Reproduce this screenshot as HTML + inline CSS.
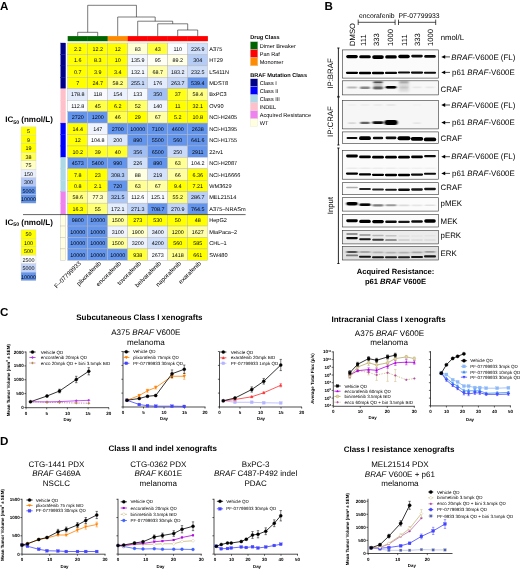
<!DOCTYPE html>
<html><head><meta charset="utf-8"><title>Figure</title>
<style>html,body{margin:0;padding:0;background:#fff}svg{display:block}text{font-family:"Liberation Sans",sans-serif;text-rendering:geometricPrecision}</style>
</head><body>
<svg width="520" height="569" viewBox="0 0 520 569">
<defs>
<filter id="b1" x="-20%" y="-100%" width="140%" height="300%"><feGaussianBlur stdDeviation="0.7 0.55"/></filter>
<filter id="b2" x="-20%" y="-100%" width="140%" height="300%"><feGaussianBlur stdDeviation="0.9 0.7"/></filter>
<filter id="b3" x="-30%" y="-50%" width="160%" height="200%"><feGaussianBlur stdDeviation="1.4 1.6"/></filter>
</defs>
<rect width="520" height="569" fill="#fff"/>
<g>
<text x="0.10" y="9.80" font-size="11.6" text-anchor="start" font-weight="bold" font-style="normal" fill="#000">A</text>
<text x="324.40" y="9.60" font-size="11.6" text-anchor="start" font-weight="bold" font-style="normal" fill="#000">B</text>
<text x="0.10" y="316.30" font-size="11.6" text-anchor="start" font-weight="bold" font-style="normal" fill="#000">C</text>
<text x="0.10" y="445.00" font-size="11.6" text-anchor="start" font-weight="bold" font-style="normal" fill="#000">D</text>
<g font-size="5.4" text-anchor="middle">
<rect x="67.70" y="43.00" width="20.0" height="11.44" fill="#ffff00" stroke="#b4b4b4" stroke-width="0.4"/>
<text x="77.70" y="50.67">2.2</text>
<rect x="87.70" y="43.00" width="20.0" height="11.44" fill="#ffff00" stroke="#b4b4b4" stroke-width="0.4"/>
<text x="97.70" y="50.67">12.2</text>
<rect x="107.70" y="43.00" width="20.0" height="11.44" fill="#ffff00" stroke="#b4b4b4" stroke-width="0.4"/>
<text x="117.70" y="50.67">12</text>
<rect x="127.70" y="43.00" width="20.0" height="11.44" fill="#ffffd4" stroke="#b4b4b4" stroke-width="0.4"/>
<text x="137.70" y="50.67">83</text>
<rect x="147.70" y="43.00" width="20.0" height="11.44" fill="#ffff3d" stroke="#b4b4b4" stroke-width="0.4"/>
<text x="157.70" y="50.67">43</text>
<rect x="167.70" y="43.00" width="20.0" height="11.44" fill="#fbfcff" stroke="#b4b4b4" stroke-width="0.4"/>
<text x="177.70" y="50.67">110</text>
<rect x="187.70" y="43.00" width="20.0" height="11.44" fill="#d0dffa" stroke="#b4b4b4" stroke-width="0.4"/>
<text x="197.70" y="50.67">226.9</text>
<rect x="67.70" y="54.44" width="20.0" height="11.44" fill="#ffff00" stroke="#b4b4b4" stroke-width="0.4"/>
<text x="77.70" y="62.11">1.6</text>
<rect x="87.70" y="54.44" width="20.0" height="11.44" fill="#ffff00" stroke="#b4b4b4" stroke-width="0.4"/>
<text x="97.70" y="62.11">8.3</text>
<rect x="107.70" y="54.44" width="20.0" height="11.44" fill="#ffff00" stroke="#b4b4b4" stroke-width="0.4"/>
<text x="117.70" y="62.11">10</text>
<rect x="127.70" y="54.44" width="20.0" height="11.44" fill="#f2f6fd" stroke="#b4b4b4" stroke-width="0.4"/>
<text x="137.70" y="62.11">135.9</text>
<rect x="147.70" y="54.44" width="20.0" height="11.44" fill="#fffff3" stroke="#b4b4b4" stroke-width="0.4"/>
<text x="157.70" y="62.11">95</text>
<rect x="167.70" y="54.44" width="20.0" height="11.44" fill="#ffffe5" stroke="#b4b4b4" stroke-width="0.4"/>
<text x="177.70" y="62.11">89.2</text>
<rect x="187.70" y="54.44" width="20.0" height="11.44" fill="#b4ccf6" stroke="#b4b4b4" stroke-width="0.4"/>
<text x="197.70" y="62.11">304</text>
<rect x="67.70" y="65.88" width="20.0" height="11.44" fill="#ffff00" stroke="#b4b4b4" stroke-width="0.4"/>
<text x="77.70" y="73.55">0.7</text>
<rect x="87.70" y="65.88" width="20.0" height="11.44" fill="#ffff00" stroke="#b4b4b4" stroke-width="0.4"/>
<text x="97.70" y="73.55">3.9</text>
<rect x="107.70" y="65.88" width="20.0" height="11.44" fill="#ffff00" stroke="#b4b4b4" stroke-width="0.4"/>
<text x="117.70" y="73.55">3.4</text>
<rect x="127.70" y="65.88" width="20.0" height="11.44" fill="#f3f7fe" stroke="#b4b4b4" stroke-width="0.4"/>
<text x="137.70" y="73.55">132.1</text>
<rect x="147.70" y="65.88" width="20.0" height="11.44" fill="#ffffa9" stroke="#b4b4b4" stroke-width="0.4"/>
<text x="157.70" y="73.55">68.7</text>
<rect x="167.70" y="65.88" width="20.0" height="11.44" fill="#e0eafb" stroke="#b4b4b4" stroke-width="0.4"/>
<text x="177.70" y="73.55">183.2</text>
<rect x="187.70" y="65.88" width="20.0" height="11.44" fill="#cedef9" stroke="#b4b4b4" stroke-width="0.4"/>
<text x="197.70" y="73.55">232.5</text>
<rect x="67.70" y="77.32" width="20.0" height="11.44" fill="#ffff00" stroke="#b4b4b4" stroke-width="0.4"/>
<text x="77.70" y="84.99">7</text>
<rect x="87.70" y="77.32" width="20.0" height="11.44" fill="#ffff00" stroke="#b4b4b4" stroke-width="0.4"/>
<text x="97.70" y="84.99">24.7</text>
<rect x="107.70" y="77.32" width="20.0" height="11.44" fill="#ffff83" stroke="#b4b4b4" stroke-width="0.4"/>
<text x="117.70" y="84.99">58.2</text>
<rect x="127.70" y="77.32" width="20.0" height="11.44" fill="#c6d8f8" stroke="#b4b4b4" stroke-width="0.4"/>
<text x="137.70" y="84.99">255.1</text>
<rect x="147.70" y="77.32" width="20.0" height="11.44" fill="#e3ecfc" stroke="#b4b4b4" stroke-width="0.4"/>
<text x="157.70" y="84.99">176</text>
<rect x="167.70" y="77.32" width="20.0" height="11.44" fill="#c3d6f8" stroke="#b4b4b4" stroke-width="0.4"/>
<text x="177.70" y="84.99">263.7</text>
<rect x="187.70" y="77.32" width="20.0" height="11.44" fill="#6495ed" stroke="#b4b4b4" stroke-width="0.4"/>
<text x="197.70" y="84.99">539.4</text>
<rect x="67.70" y="88.76" width="20.0" height="11.44" fill="#e2ebfc" stroke="#b4b4b4" stroke-width="0.4"/>
<text x="77.70" y="96.43">178.8</text>
<rect x="87.70" y="88.76" width="20.0" height="11.44" fill="#f8fafe" stroke="#b4b4b4" stroke-width="0.4"/>
<text x="97.70" y="96.43">118</text>
<rect x="107.70" y="88.76" width="20.0" height="11.44" fill="#ebf1fd" stroke="#b4b4b4" stroke-width="0.4"/>
<text x="117.70" y="96.43">154</text>
<rect x="127.70" y="88.76" width="20.0" height="11.44" fill="#f3f7fe" stroke="#b4b4b4" stroke-width="0.4"/>
<text x="137.70" y="96.43">133</text>
<rect x="147.70" y="88.76" width="20.0" height="11.44" fill="#a3c0f4" stroke="#b4b4b4" stroke-width="0.4"/>
<text x="157.70" y="96.43">350</text>
<rect x="167.70" y="88.76" width="20.0" height="11.44" fill="#ffff1a" stroke="#b4b4b4" stroke-width="0.4"/>
<text x="177.70" y="96.43">37</text>
<rect x="187.70" y="88.76" width="20.0" height="11.44" fill="#ffff83" stroke="#b4b4b4" stroke-width="0.4"/>
<text x="197.70" y="96.43">58.4</text>
<rect x="67.70" y="100.20" width="20.0" height="11.44" fill="#fafcfe" stroke="#b4b4b4" stroke-width="0.4"/>
<text x="77.70" y="107.87">112.8</text>
<rect x="87.70" y="100.20" width="20.0" height="11.44" fill="#ffff47" stroke="#b4b4b4" stroke-width="0.4"/>
<text x="97.70" y="107.87">45</text>
<rect x="107.70" y="100.20" width="20.0" height="11.44" fill="#ffff00" stroke="#b4b4b4" stroke-width="0.4"/>
<text x="117.70" y="107.87">6.2</text>
<rect x="127.70" y="100.20" width="20.0" height="11.44" fill="#ffff69" stroke="#b4b4b4" stroke-width="0.4"/>
<text x="137.70" y="107.87">52</text>
<rect x="147.70" y="100.20" width="20.0" height="11.44" fill="#f0f5fd" stroke="#b4b4b4" stroke-width="0.4"/>
<text x="157.70" y="107.87">140</text>
<rect x="167.70" y="100.20" width="20.0" height="11.44" fill="#ffff00" stroke="#b4b4b4" stroke-width="0.4"/>
<text x="177.70" y="107.87">11</text>
<rect x="187.70" y="100.20" width="20.0" height="11.44" fill="#ffff00" stroke="#b4b4b4" stroke-width="0.4"/>
<text x="197.70" y="107.87">32.1</text>
<rect x="67.70" y="111.64" width="20.0" height="11.44" fill="#6495ed" stroke="#b4b4b4" stroke-width="0.4"/>
<text x="77.70" y="119.31">2720</text>
<rect x="87.70" y="111.64" width="20.0" height="11.44" fill="#6495ed" stroke="#b4b4b4" stroke-width="0.4"/>
<text x="97.70" y="119.31">1200</text>
<rect x="107.70" y="111.64" width="20.0" height="11.44" fill="#ffff4c" stroke="#b4b4b4" stroke-width="0.4"/>
<text x="117.70" y="119.31">46</text>
<rect x="127.70" y="111.64" width="20.0" height="11.44" fill="#ffff00" stroke="#b4b4b4" stroke-width="0.4"/>
<text x="137.70" y="119.31">29</text>
<rect x="147.70" y="111.64" width="20.0" height="11.44" fill="#ffffa3" stroke="#b4b4b4" stroke-width="0.4"/>
<text x="157.70" y="119.31">67</text>
<rect x="167.70" y="111.64" width="20.0" height="11.44" fill="#ffff00" stroke="#b4b4b4" stroke-width="0.4"/>
<text x="177.70" y="119.31">5.2</text>
<rect x="187.70" y="111.64" width="20.0" height="11.44" fill="#ffff00" stroke="#b4b4b4" stroke-width="0.4"/>
<text x="197.70" y="119.31">10.8</text>
<rect x="67.70" y="123.08" width="20.0" height="11.44" fill="#ffff00" stroke="#b4b4b4" stroke-width="0.4"/>
<text x="77.70" y="130.75">14.4</text>
<rect x="87.70" y="123.08" width="20.0" height="11.44" fill="#eef3fd" stroke="#b4b4b4" stroke-width="0.4"/>
<text x="97.70" y="130.75">147</text>
<rect x="107.70" y="123.08" width="20.0" height="11.44" fill="#6495ed" stroke="#b4b4b4" stroke-width="0.4"/>
<text x="117.70" y="130.75">2700</text>
<rect x="127.70" y="123.08" width="20.0" height="11.44" fill="#6495ed" stroke="#b4b4b4" stroke-width="0.4"/>
<text x="137.70" y="130.75">10000</text>
<rect x="147.70" y="123.08" width="20.0" height="11.44" fill="#6495ed" stroke="#b4b4b4" stroke-width="0.4"/>
<text x="157.70" y="130.75">7100</text>
<rect x="167.70" y="123.08" width="20.0" height="11.44" fill="#6495ed" stroke="#b4b4b4" stroke-width="0.4"/>
<text x="177.70" y="130.75">4600</text>
<rect x="187.70" y="123.08" width="20.0" height="11.44" fill="#6495ed" stroke="#b4b4b4" stroke-width="0.4"/>
<text x="197.70" y="130.75">2638</text>
<rect x="67.70" y="134.52" width="20.0" height="11.44" fill="#ffff00" stroke="#b4b4b4" stroke-width="0.4"/>
<text x="77.70" y="142.19">12</text>
<rect x="87.70" y="134.52" width="20.0" height="11.44" fill="#fdfeff" stroke="#b4b4b4" stroke-width="0.4"/>
<text x="97.70" y="142.19">104.8</text>
<rect x="107.70" y="134.52" width="20.0" height="11.44" fill="#dae6fb" stroke="#b4b4b4" stroke-width="0.4"/>
<text x="117.70" y="142.19">200</text>
<rect x="127.70" y="134.52" width="20.0" height="11.44" fill="#6495ed" stroke="#b4b4b4" stroke-width="0.4"/>
<text x="137.70" y="142.19">890</text>
<rect x="147.70" y="134.52" width="20.0" height="11.44" fill="#6495ed" stroke="#b4b4b4" stroke-width="0.4"/>
<text x="157.70" y="142.19">5500</text>
<rect x="167.70" y="134.52" width="20.0" height="11.44" fill="#6495ed" stroke="#b4b4b4" stroke-width="0.4"/>
<text x="177.70" y="142.19">560</text>
<rect x="187.70" y="134.52" width="20.0" height="11.44" fill="#6495ed" stroke="#b4b4b4" stroke-width="0.4"/>
<text x="197.70" y="142.19">641.6</text>
<rect x="67.70" y="145.96" width="20.0" height="11.44" fill="#ffff00" stroke="#b4b4b4" stroke-width="0.4"/>
<text x="77.70" y="153.63">10.2</text>
<rect x="87.70" y="145.96" width="20.0" height="11.44" fill="#ffff26" stroke="#b4b4b4" stroke-width="0.4"/>
<text x="97.70" y="153.63">39</text>
<rect x="107.70" y="145.96" width="20.0" height="11.44" fill="#ffff2c" stroke="#b4b4b4" stroke-width="0.4"/>
<text x="117.70" y="153.63">40</text>
<rect x="127.70" y="145.96" width="20.0" height="11.44" fill="#a1bef4" stroke="#b4b4b4" stroke-width="0.4"/>
<text x="137.70" y="153.63">356</text>
<rect x="147.70" y="145.96" width="20.0" height="11.44" fill="#6495ed" stroke="#b4b4b4" stroke-width="0.4"/>
<text x="157.70" y="153.63">6500</text>
<rect x="167.70" y="145.96" width="20.0" height="11.44" fill="#c8d9f9" stroke="#b4b4b4" stroke-width="0.4"/>
<text x="177.70" y="153.63">250</text>
<rect x="187.70" y="145.96" width="20.0" height="11.44" fill="#6495ed" stroke="#b4b4b4" stroke-width="0.4"/>
<text x="197.70" y="153.63">2911</text>
<rect x="67.70" y="157.40" width="20.0" height="11.44" fill="#6495ed" stroke="#b4b4b4" stroke-width="0.4"/>
<text x="77.70" y="165.07">4573</text>
<rect x="87.70" y="157.40" width="20.0" height="11.44" fill="#6495ed" stroke="#b4b4b4" stroke-width="0.4"/>
<text x="97.70" y="165.07">5400</text>
<rect x="107.70" y="157.40" width="20.0" height="11.44" fill="#6495ed" stroke="#b4b4b4" stroke-width="0.4"/>
<text x="117.70" y="165.07">990</text>
<rect x="127.70" y="157.40" width="20.0" height="11.44" fill="#d0dffa" stroke="#b4b4b4" stroke-width="0.4"/>
<text x="137.70" y="165.07">226</text>
<rect x="147.70" y="157.40" width="20.0" height="11.44" fill="#6495ed" stroke="#b4b4b4" stroke-width="0.4"/>
<text x="157.70" y="165.07">890</text>
<rect x="167.70" y="157.40" width="20.0" height="11.44" fill="#ffff95" stroke="#b4b4b4" stroke-width="0.4"/>
<text x="177.70" y="165.07">63</text>
<rect x="187.70" y="157.40" width="20.0" height="11.44" fill="#fdfeff" stroke="#b4b4b4" stroke-width="0.4"/>
<text x="197.70" y="165.07">104.2</text>
<rect x="67.70" y="168.84" width="20.0" height="11.44" fill="#ffff00" stroke="#b4b4b4" stroke-width="0.4"/>
<text x="77.70" y="176.51">7.8</text>
<rect x="87.70" y="168.84" width="20.0" height="11.44" fill="#ffff00" stroke="#b4b4b4" stroke-width="0.4"/>
<text x="97.70" y="176.51">23</text>
<rect x="107.70" y="168.84" width="20.0" height="11.44" fill="#b2caf6" stroke="#b4b4b4" stroke-width="0.4"/>
<text x="117.70" y="176.51">308.3</text>
<rect x="127.70" y="168.84" width="20.0" height="11.44" fill="#ffffe2" stroke="#b4b4b4" stroke-width="0.4"/>
<text x="137.70" y="176.51">88</text>
<rect x="147.70" y="168.84" width="20.0" height="11.44" fill="#d3e1fa" stroke="#b4b4b4" stroke-width="0.4"/>
<text x="157.70" y="176.51">219</text>
<rect x="167.70" y="168.84" width="20.0" height="11.44" fill="#ffff9f" stroke="#b4b4b4" stroke-width="0.4"/>
<text x="177.70" y="176.51">66</text>
<rect x="187.70" y="168.84" width="20.0" height="11.44" fill="#ffff00" stroke="#b4b4b4" stroke-width="0.4"/>
<text x="197.70" y="176.51">6.36</text>
<rect x="67.70" y="180.28" width="20.0" height="11.44" fill="#ffff00" stroke="#b4b4b4" stroke-width="0.4"/>
<text x="77.70" y="187.95">0.8</text>
<rect x="87.70" y="180.28" width="20.0" height="11.44" fill="#ffff00" stroke="#b4b4b4" stroke-width="0.4"/>
<text x="97.70" y="187.95">2.1</text>
<rect x="107.70" y="180.28" width="20.0" height="11.44" fill="#6495ed" stroke="#b4b4b4" stroke-width="0.4"/>
<text x="117.70" y="187.95">720</text>
<rect x="127.70" y="180.28" width="20.0" height="11.44" fill="#ffff95" stroke="#b4b4b4" stroke-width="0.4"/>
<text x="137.70" y="187.95">63</text>
<rect x="147.70" y="180.28" width="20.0" height="11.44" fill="#ffffa3" stroke="#b4b4b4" stroke-width="0.4"/>
<text x="157.70" y="187.95">67</text>
<rect x="167.70" y="180.28" width="20.0" height="11.44" fill="#ffff00" stroke="#b4b4b4" stroke-width="0.4"/>
<text x="177.70" y="187.95">9.4</text>
<rect x="187.70" y="180.28" width="20.0" height="11.44" fill="#ffff00" stroke="#b4b4b4" stroke-width="0.4"/>
<text x="197.70" y="187.95">7.21</text>
<rect x="67.70" y="191.72" width="20.0" height="11.44" fill="#ffff84" stroke="#b4b4b4" stroke-width="0.4"/>
<text x="77.70" y="199.39">58.6</text>
<rect x="87.70" y="191.72" width="20.0" height="11.44" fill="#ffffc4" stroke="#b4b4b4" stroke-width="0.4"/>
<text x="97.70" y="199.39">77.3</text>
<rect x="107.70" y="191.72" width="20.0" height="11.44" fill="#adc7f6" stroke="#b4b4b4" stroke-width="0.4"/>
<text x="117.70" y="199.39">321.5</text>
<rect x="127.70" y="191.72" width="20.0" height="11.44" fill="#fafcfe" stroke="#b4b4b4" stroke-width="0.4"/>
<text x="137.70" y="199.39">112.6</text>
<rect x="147.70" y="191.72" width="20.0" height="11.44" fill="#f6f9fe" stroke="#b4b4b4" stroke-width="0.4"/>
<text x="157.70" y="199.39">125.1</text>
<rect x="167.70" y="191.72" width="20.0" height="11.44" fill="#ffff76" stroke="#b4b4b4" stroke-width="0.4"/>
<text x="177.70" y="199.39">55.2</text>
<rect x="187.70" y="191.72" width="20.0" height="11.44" fill="#bad0f7" stroke="#b4b4b4" stroke-width="0.4"/>
<text x="197.70" y="199.39">286.7</text>
<rect x="67.70" y="203.16" width="20.0" height="11.44" fill="#ffff00" stroke="#b4b4b4" stroke-width="0.4"/>
<text x="77.70" y="210.83">16.3</text>
<rect x="87.70" y="203.16" width="20.0" height="11.44" fill="#ffff75" stroke="#b4b4b4" stroke-width="0.4"/>
<text x="97.70" y="210.83">55</text>
<rect x="107.70" y="203.16" width="20.0" height="11.44" fill="#e4edfc" stroke="#b4b4b4" stroke-width="0.4"/>
<text x="117.70" y="210.83">172.1</text>
<rect x="127.70" y="203.16" width="20.0" height="11.44" fill="#c0d4f8" stroke="#b4b4b4" stroke-width="0.4"/>
<text x="137.70" y="210.83">271.3</text>
<rect x="147.70" y="203.16" width="20.0" height="11.44" fill="#6495ed" stroke="#b4b4b4" stroke-width="0.4"/>
<text x="157.70" y="210.83">708.7</text>
<rect x="167.70" y="203.16" width="20.0" height="11.44" fill="#c0d4f8" stroke="#b4b4b4" stroke-width="0.4"/>
<text x="177.70" y="210.83">270.9</text>
<rect x="187.70" y="203.16" width="20.0" height="11.44" fill="#6495ed" stroke="#b4b4b4" stroke-width="0.4"/>
<text x="197.70" y="210.83">764.5</text>
<rect x="67.70" y="214.60" width="20.0" height="11.44" fill="#6495ed" stroke="#b4b4b4" stroke-width="0.4"/>
<text x="77.70" y="222.27">9800</text>
<rect x="87.70" y="214.60" width="20.0" height="11.44" fill="#6495ed" stroke="#b4b4b4" stroke-width="0.4"/>
<text x="97.70" y="222.27">10000</text>
<rect x="107.70" y="214.60" width="20.0" height="11.44" fill="#ffff99" stroke="#b4b4b4" stroke-width="0.4"/>
<text x="117.70" y="222.27">1500</text>
<rect x="127.70" y="214.60" width="20.0" height="11.44" fill="#ffff00" stroke="#b4b4b4" stroke-width="0.4"/>
<text x="137.70" y="222.27">273</text>
<rect x="147.70" y="214.60" width="20.0" height="11.44" fill="#ffff00" stroke="#b4b4b4" stroke-width="0.4"/>
<text x="157.70" y="222.27">530</text>
<rect x="167.70" y="214.60" width="20.0" height="11.44" fill="#ffff00" stroke="#b4b4b4" stroke-width="0.4"/>
<text x="177.70" y="222.27">50</text>
<rect x="187.70" y="214.60" width="20.0" height="11.44" fill="#ffff00" stroke="#b4b4b4" stroke-width="0.4"/>
<text x="197.70" y="222.27">48</text>
<rect x="67.70" y="226.04" width="20.0" height="11.44" fill="#6495ed" stroke="#b4b4b4" stroke-width="0.4"/>
<text x="77.70" y="233.71">10000</text>
<rect x="87.70" y="226.04" width="20.0" height="11.44" fill="#6495ed" stroke="#b4b4b4" stroke-width="0.4"/>
<text x="97.70" y="233.71">10000</text>
<rect x="107.70" y="226.04" width="20.0" height="11.44" fill="#eef3fd" stroke="#b4b4b4" stroke-width="0.4"/>
<text x="117.70" y="233.71">3100</text>
<rect x="127.70" y="226.04" width="20.0" height="11.44" fill="#ffffc8" stroke="#b4b4b4" stroke-width="0.4"/>
<text x="137.70" y="233.71">1900</text>
<rect x="147.70" y="226.04" width="20.0" height="11.44" fill="#e6eefc" stroke="#b4b4b4" stroke-width="0.4"/>
<text x="157.70" y="233.71">3400</text>
<rect x="167.70" y="226.04" width="20.0" height="11.44" fill="#ffff6c" stroke="#b4b4b4" stroke-width="0.4"/>
<text x="177.70" y="233.71">1200</text>
<rect x="187.70" y="226.04" width="20.0" height="11.44" fill="#ffffa9" stroke="#b4b4b4" stroke-width="0.4"/>
<text x="197.70" y="233.71">1627</text>
<rect x="67.70" y="237.48" width="20.0" height="11.44" fill="#6495ed" stroke="#b4b4b4" stroke-width="0.4"/>
<text x="77.70" y="245.15">10000</text>
<rect x="87.70" y="237.48" width="20.0" height="11.44" fill="#6495ed" stroke="#b4b4b4" stroke-width="0.4"/>
<text x="97.70" y="245.15">10000</text>
<rect x="107.70" y="237.48" width="20.0" height="11.44" fill="#ffff99" stroke="#b4b4b4" stroke-width="0.4"/>
<text x="117.70" y="245.15">1500</text>
<rect x="127.70" y="237.48" width="20.0" height="11.44" fill="#ebf2fd" stroke="#b4b4b4" stroke-width="0.4"/>
<text x="137.70" y="245.15">3200</text>
<rect x="147.70" y="237.48" width="20.0" height="11.44" fill="#cfdef9" stroke="#b4b4b4" stroke-width="0.4"/>
<text x="157.70" y="245.15">4200</text>
<rect x="167.70" y="237.48" width="20.0" height="11.44" fill="#ffff00" stroke="#b4b4b4" stroke-width="0.4"/>
<text x="177.70" y="245.15">560</text>
<rect x="187.70" y="237.48" width="20.0" height="11.44" fill="#ffff00" stroke="#b4b4b4" stroke-width="0.4"/>
<text x="197.70" y="245.15">585</text>
<rect x="67.70" y="248.92" width="20.0" height="11.44" fill="#6495ed" stroke="#b4b4b4" stroke-width="0.4"/>
<text x="77.70" y="256.59">10000</text>
<rect x="87.70" y="248.92" width="20.0" height="11.44" fill="#6495ed" stroke="#b4b4b4" stroke-width="0.4"/>
<text x="97.70" y="256.59">10000</text>
<rect x="107.70" y="248.92" width="20.0" height="11.44" fill="#6495ed" stroke="#b4b4b4" stroke-width="0.4"/>
<text x="117.70" y="256.59">10000</text>
<rect x="127.70" y="248.92" width="20.0" height="11.44" fill="#ffff3b" stroke="#b4b4b4" stroke-width="0.4"/>
<text x="137.70" y="256.59">938</text>
<rect x="147.70" y="248.92" width="20.0" height="11.44" fill="#fafcfe" stroke="#b4b4b4" stroke-width="0.4"/>
<text x="157.70" y="256.59">2673</text>
<rect x="167.70" y="248.92" width="20.0" height="11.44" fill="#ffff8d" stroke="#b4b4b4" stroke-width="0.4"/>
<text x="177.70" y="256.59">1418</text>
<rect x="187.70" y="248.92" width="20.0" height="11.44" fill="#ffff00" stroke="#b4b4b4" stroke-width="0.4"/>
<text x="197.70" y="256.59">661</text>
</g>
<g font-size="5.6">
<text x="209.2" y="50.72">A375</text>
<text x="209.2" y="62.16">HT29</text>
<text x="209.2" y="73.60">LS411N</text>
<text x="209.2" y="85.04">MDST8</text>
<text x="209.2" y="96.48">BxPC3</text>
<text x="209.2" y="107.92">OV90</text>
<text x="209.2" y="119.36">NCI-H2405</text>
<text x="209.2" y="130.80">NCI-H1395</text>
<text x="209.2" y="142.24">NCI-H1755</text>
<text x="209.2" y="153.68">22rv1</text>
<text x="209.2" y="165.12">NCI-H2087</text>
<text x="209.2" y="176.56">NCI-H16666</text>
<text x="209.2" y="188.00">WM3629</text>
<text x="209.2" y="199.44">MEL21514</text>
<text x="209.2" y="210.88">A375–NRASm</text>
<text x="209.2" y="222.32">HepG2</text>
<text x="209.2" y="233.76">MiaPaca–2</text>
<text x="209.2" y="245.20">CHL–1</text>
<text x="209.2" y="256.64">SW480</text>
</g>
<rect x="60.7" y="43.00" width="4.9" height="11.44" fill="#00008b" stroke="#00008b" stroke-width="0.3"/>
<rect x="60.7" y="54.44" width="4.9" height="11.44" fill="#00008b" stroke="#00008b" stroke-width="0.3"/>
<rect x="60.7" y="65.88" width="4.9" height="11.44" fill="#00008b" stroke="#00008b" stroke-width="0.3"/>
<rect x="60.7" y="77.32" width="4.9" height="11.44" fill="#00008b" stroke="#00008b" stroke-width="0.3"/>
<rect x="60.7" y="88.76" width="4.9" height="11.44" fill="#ffc0cb" stroke="#ffc0cb" stroke-width="0.3"/>
<rect x="60.7" y="100.20" width="4.9" height="11.44" fill="#ffc0cb" stroke="#ffc0cb" stroke-width="0.3"/>
<rect x="60.7" y="111.64" width="4.9" height="11.44" fill="#ffc0cb" stroke="#ffc0cb" stroke-width="0.3"/>
<rect x="60.7" y="123.08" width="4.9" height="11.44" fill="#0000ff" stroke="#0000ff" stroke-width="0.3"/>
<rect x="60.7" y="134.52" width="4.9" height="11.44" fill="#0000ff" stroke="#0000ff" stroke-width="0.3"/>
<rect x="60.7" y="145.96" width="4.9" height="11.44" fill="#0000ff" stroke="#0000ff" stroke-width="0.3"/>
<rect x="60.7" y="157.40" width="4.9" height="11.44" fill="#add8e6" stroke="#add8e6" stroke-width="0.3"/>
<rect x="60.7" y="168.84" width="4.9" height="11.44" fill="#add8e6" stroke="#add8e6" stroke-width="0.3"/>
<rect x="60.7" y="180.28" width="4.9" height="11.44" fill="#add8e6" stroke="#add8e6" stroke-width="0.3"/>
<rect x="60.7" y="191.72" width="4.9" height="11.44" fill="#ee82ee" stroke="#ee82ee" stroke-width="0.3"/>
<rect x="60.7" y="203.16" width="4.9" height="11.44" fill="#ee82ee" stroke="#ee82ee" stroke-width="0.3"/>
<rect x="60.7" y="214.60" width="4.9" height="11.44" fill="#ffffe0" stroke="#bbb" stroke-width="0.4"/>
<rect x="60.7" y="226.04" width="4.9" height="11.44" fill="#ffffe0" stroke="#bbb" stroke-width="0.4"/>
<rect x="60.7" y="237.48" width="4.9" height="11.44" fill="#ffffe0" stroke="#bbb" stroke-width="0.4"/>
<rect x="60.7" y="248.92" width="4.9" height="11.44" fill="#ffffe0" stroke="#bbb" stroke-width="0.4"/>
<rect x="67.70" y="36.1" width="20.2" height="5.1" fill="#006400"/>
<rect x="87.70" y="36.1" width="20.2" height="5.1" fill="#006400"/>
<rect x="107.70" y="36.1" width="20.2" height="5.1" fill="#ff8c00"/>
<rect x="127.70" y="36.1" width="20.2" height="5.1" fill="#ff0000"/>
<rect x="147.70" y="36.1" width="20.2" height="5.1" fill="#ff0000"/>
<rect x="167.70" y="36.1" width="20.2" height="5.1" fill="#ff0000"/>
<rect x="187.70" y="36.1" width="20.2" height="5.1" fill="#ff0000"/>
<line x1="23" y1="214.60" x2="245.6" y2="214.60" stroke="#222" stroke-width="0.7"/>
<polyline fill="none" stroke="#222" stroke-width="0.6" points="177.70,36.10 177.70,30.00 197.70,30.00 197.70,36.10"/>
<polyline fill="none" stroke="#222" stroke-width="0.6" points="157.70,36.10 157.70,23.80 187.70,23.80 187.70,30.00"/>
<polyline fill="none" stroke="#222" stroke-width="0.6" points="137.70,36.10 137.70,21.20 172.70,21.20 172.70,23.80"/>
<polyline fill="none" stroke="#222" stroke-width="0.6" points="117.70,36.10 117.70,17.00 155.20,17.00 155.20,21.20"/>
<polyline fill="none" stroke="#222" stroke-width="0.6" points="77.70,36.10 77.70,32.30 97.70,32.30 97.70,36.10"/>
<polyline fill="none" stroke="#222" stroke-width="0.6" points="87.70,32.30 87.70,5.30 136.45,5.30 136.45,17.00"/>
<text x="81.40" y="263.80" font-size="6.2" text-anchor="end" font-weight="normal" font-style="normal" fill="#000" transform="rotate(-45 81.40 263.80)">F–07799933</text>
<text x="101.40" y="263.80" font-size="6.2" text-anchor="end" font-weight="normal" font-style="normal" fill="#000" transform="rotate(-45 101.40 263.80)">plixorafenib</text>
<text x="121.40" y="263.80" font-size="6.2" text-anchor="end" font-weight="normal" font-style="normal" fill="#000" transform="rotate(-45 121.40 263.80)">encorafenib</text>
<text x="141.40" y="263.80" font-size="6.2" text-anchor="end" font-weight="normal" font-style="normal" fill="#000" transform="rotate(-45 141.40 263.80)">tovorafenib</text>
<text x="161.40" y="263.80" font-size="6.2" text-anchor="end" font-weight="normal" font-style="normal" fill="#000" transform="rotate(-45 161.40 263.80)">belvarafenib</text>
<text x="181.40" y="263.80" font-size="6.2" text-anchor="end" font-weight="normal" font-style="normal" fill="#000" transform="rotate(-45 181.40 263.80)">naporafenib</text>
<text x="201.40" y="263.80" font-size="6.2" text-anchor="end" font-weight="normal" font-style="normal" fill="#000" transform="rotate(-45 201.40 263.80)">exarafenib</text>
<text x="5.3" y="122.3" font-size="8" font-weight="bold">IC<tspan font-size="5.2" dy="1.5">50</tspan><tspan dy="-1.5"> (nmol/L)</tspan></text>
<text x="5.3" y="224.6" font-size="8" font-weight="bold">IC<tspan font-size="5.2" dy="1.5">50</tspan><tspan dy="-1.5"> (nmol/L)</tspan></text>
<rect x="21" y="126.90" width="15" height="8.47" fill="#ffff00" stroke="#ccc" stroke-width="0.3"/>
<text x="28.5" y="133.44" font-size="5.4" text-anchor="middle">5</text>
<rect x="21" y="135.37" width="15" height="8.47" fill="#ffff00" stroke="#ccc" stroke-width="0.3"/>
<text x="28.5" y="141.91" font-size="5.4" text-anchor="middle">9</text>
<rect x="21" y="143.84" width="15" height="8.47" fill="#ffff00" stroke="#ccc" stroke-width="0.3"/>
<text x="28.5" y="150.38" font-size="5.4" text-anchor="middle">19</text>
<rect x="21" y="152.31" width="15" height="8.47" fill="#ffff55" stroke="#ccc" stroke-width="0.3"/>
<text x="28.5" y="158.85" font-size="5.4" text-anchor="middle">38</text>
<rect x="21" y="160.78" width="15" height="8.47" fill="#ffffc4" stroke="#ccc" stroke-width="0.3"/>
<text x="28.5" y="167.32" font-size="5.4" text-anchor="middle">75</text>
<rect x="21" y="169.25" width="15" height="8.47" fill="#e9effc" stroke="#ccc" stroke-width="0.3"/>
<text x="28.5" y="175.79" font-size="5.4" text-anchor="middle">150</text>
<rect x="21" y="177.72" width="15" height="8.47" fill="#b4c8f6" stroke="#ccc" stroke-width="0.3"/>
<text x="28.5" y="184.26" font-size="5.4" text-anchor="middle">300</text>
<rect x="21" y="186.19" width="15" height="8.47" fill="#6495ed" stroke="#ccc" stroke-width="0.3"/>
<text x="28.5" y="192.73" font-size="5.4" text-anchor="middle">5000</text>
<rect x="21" y="194.66" width="15" height="8.47" fill="#6495ed" stroke="#ccc" stroke-width="0.3"/>
<text x="28.5" y="201.20" font-size="5.4" text-anchor="middle">10000</text>
<rect x="21" y="229.90" width="15" height="8.45" fill="#ffff00" stroke="#ccc" stroke-width="0.3"/>
<text x="28.5" y="236.43" font-size="5.4" text-anchor="middle">50</text>
<rect x="21" y="238.35" width="15" height="8.45" fill="#ffff00" stroke="#ccc" stroke-width="0.3"/>
<text x="28.5" y="244.88" font-size="5.4" text-anchor="middle">100</text>
<rect x="21" y="246.80" width="15" height="8.45" fill="#ffff00" stroke="#ccc" stroke-width="0.3"/>
<text x="28.5" y="253.33" font-size="5.4" text-anchor="middle">500</text>
<rect x="21" y="255.25" width="15" height="8.45" fill="#fafbff" stroke="#ccc" stroke-width="0.3"/>
<text x="28.5" y="261.78" font-size="5.4" text-anchor="middle">2500</text>
<rect x="21" y="263.70" width="15" height="8.45" fill="#c3d3f8" stroke="#ccc" stroke-width="0.3"/>
<text x="28.5" y="270.23" font-size="5.4" text-anchor="middle">5000</text>
<rect x="21" y="272.15" width="15" height="8.45" fill="#6495ed" stroke="#ccc" stroke-width="0.3"/>
<text x="28.5" y="278.68" font-size="5.4" text-anchor="middle">10000</text>
<text x="250.20" y="39.20" font-size="5.6" text-anchor="start" font-weight="bold" font-style="normal" fill="#000">Drug Class</text>
<rect x="250.3" y="41.70" width="7.5" height="8.03" fill="#006400" stroke="#ddd" stroke-width="0.3"/>
<text x="259.70" y="47.70" font-size="5.6" text-anchor="start" font-weight="normal" font-style="normal" fill="#000">Dimer Breaker</text>
<rect x="250.3" y="49.73" width="7.5" height="8.03" fill="#ff0000" stroke="#ddd" stroke-width="0.3"/>
<text x="259.70" y="55.73" font-size="5.6" text-anchor="start" font-weight="normal" font-style="normal" fill="#000">Pan Raf</text>
<rect x="250.3" y="57.76" width="7.5" height="8.03" fill="#ff8c00" stroke="#ddd" stroke-width="0.3"/>
<text x="259.70" y="63.76" font-size="5.6" text-anchor="start" font-weight="normal" font-style="normal" fill="#000">Monomer</text>
<text x="250.20" y="76.70" font-size="5.6" text-anchor="start" font-weight="bold" font-style="normal" fill="#000">BRAF Mutation Class</text>
<rect x="250.3" y="78.80" width="7.5" height="8" fill="#00008b" stroke="#ddd" stroke-width="0.3"/>
<text x="259.70" y="84.80" font-size="5.6" text-anchor="start" font-weight="normal" font-style="normal" fill="#000">Class I</text>
<rect x="250.3" y="86.80" width="7.5" height="8" fill="#0000ff" stroke="#ddd" stroke-width="0.3"/>
<text x="259.70" y="92.80" font-size="5.6" text-anchor="start" font-weight="normal" font-style="normal" fill="#000">Class II</text>
<rect x="250.3" y="94.80" width="7.5" height="8" fill="#add8e6" stroke="#ddd" stroke-width="0.3"/>
<text x="259.70" y="100.80" font-size="5.6" text-anchor="start" font-weight="normal" font-style="normal" fill="#000">Class III</text>
<rect x="250.3" y="102.80" width="7.5" height="8" fill="#ffc0cb" stroke="#ddd" stroke-width="0.3"/>
<text x="259.70" y="108.80" font-size="5.6" text-anchor="start" font-weight="normal" font-style="normal" fill="#000">INDEL</text>
<rect x="250.3" y="110.80" width="7.5" height="8" fill="#ee82ee" stroke="#ddd" stroke-width="0.3"/>
<text x="259.70" y="116.80" font-size="5.6" text-anchor="start" font-weight="normal" font-style="normal" fill="#000">Acquired Resistance</text>
<rect x="250.3" y="118.80" width="7.5" height="8" fill="#ffffe0" stroke="#ddd" stroke-width="0.3"/>
<text x="259.70" y="124.80" font-size="5.6" text-anchor="start" font-weight="normal" font-style="normal" fill="#000">WT</text>
<text x="376.80" y="18.00" font-size="6.8" text-anchor="middle" font-weight="normal" font-style="normal" fill="#000">encorafenib</text>
<text x="419.00" y="18.00" font-size="6.8" text-anchor="middle" font-weight="normal" font-style="normal" fill="#000">PF-07799933</text>
<path d="M358.2 19.6V25.0M358.2 22.3H395.1M395.1 19.6V25.0" stroke="#000" stroke-width="0.7" fill="none"/>
<path d="M398.5 19.6V25.0M398.5 22.3H435.7M435.7 19.6V25.0" stroke="#000" stroke-width="0.7" fill="none"/>
<text x="354.70" y="45.90" font-size="7.6" text-anchor="start" font-weight="normal" font-style="normal" fill="#000" transform="rotate(-90 354.70 45.90)">DMSO</text>
<text x="365.80" y="45.90" font-size="7.6" text-anchor="start" font-weight="normal" font-style="normal" fill="#000" transform="rotate(-90 365.80 45.90)">111</text>
<text x="379.10" y="45.90" font-size="7.6" text-anchor="start" font-weight="normal" font-style="normal" fill="#000" transform="rotate(-90 379.10 45.90)">333</text>
<text x="392.80" y="45.90" font-size="7.6" text-anchor="start" font-weight="normal" font-style="normal" fill="#000" transform="rotate(-90 392.80 45.90)">1000</text>
<text x="406.60" y="45.90" font-size="7.6" text-anchor="start" font-weight="normal" font-style="normal" fill="#000" transform="rotate(-90 406.60 45.90)">111</text>
<text x="420.00" y="45.90" font-size="7.6" text-anchor="start" font-weight="normal" font-style="normal" fill="#000" transform="rotate(-90 420.00 45.90)">333</text>
<text x="433.40" y="45.90" font-size="7.6" text-anchor="start" font-weight="normal" font-style="normal" fill="#000" transform="rotate(-90 433.40 45.90)">1000</text>
<text x="440.70" y="40.30" font-size="7.8" text-anchor="start" font-weight="normal" font-style="normal" fill="#000">nmol/L</text>
<rect x="342.3" y="49.9" width="96.20" height="28.20" fill="#fbfbfb" stroke="#333" stroke-width="0.6"/>
<rect x="346.20" y="55.05" width="11.6" height="3.1" rx="1.55" fill="#000" opacity="1" filter="url(#b1)"/>
<rect x="359.20" y="55.25" width="11.6" height="3.1" rx="1.55" fill="#000" opacity="1" filter="url(#b1)"/>
<rect x="372.20" y="55.15" width="11.6" height="3.9" rx="1.95" fill="#000" opacity="1" filter="url(#b1)"/>
<rect x="385.20" y="55.35" width="11.6" height="3.1" rx="1.55" fill="#000" opacity="1" filter="url(#b1)"/>
<rect x="398.20" y="54.75" width="11.6" height="3.5" rx="1.75" fill="#000" opacity="1" filter="url(#b1)"/>
<rect x="411.20" y="54.75" width="11.6" height="2.7" rx="1.35" fill="#000" opacity="0.95" filter="url(#b1)"/>
<rect x="424.20" y="55.05" width="11.6" height="2.7" rx="1.35" fill="#000" opacity="0.95" filter="url(#b1)"/>
<rect x="345.90" y="71.65" width="12.200000000000001" height="2.3000000000000003" rx="1.15" fill="#000" opacity="1" filter="url(#b1)"/>
<rect x="358.90" y="71.65" width="12.200000000000001" height="2.5" rx="1.25" fill="#000" opacity="1" filter="url(#b1)"/>
<rect x="371.90" y="71.65" width="12.200000000000001" height="2.7" rx="1.35" fill="#000" opacity="1" filter="url(#b1)"/>
<rect x="384.90" y="71.75" width="12.200000000000001" height="2.3000000000000003" rx="1.15" fill="#000" opacity="0.95" filter="url(#b1)"/>
<rect x="397.90" y="71.45" width="12.200000000000001" height="2.1" rx="1.05" fill="#000" opacity="0.95" filter="url(#b1)"/>
<rect x="410.90" y="71.55" width="12.200000000000001" height="2.1" rx="1.05" fill="#000" opacity="0.95" filter="url(#b1)"/>
<rect x="423.90" y="71.75" width="12.200000000000001" height="2.1" rx="1.05" fill="#000" opacity="0.95" filter="url(#b1)"/>
<rect x="342.3" y="80.8" width="96.20" height="14.10" fill="#f7f7f7" stroke="#333" stroke-width="0.6"/>
<rect x="399.0" y="81.2" width="10" height="10.5" fill="#000" opacity="0.12" filter="url(#b3)"/>
<rect x="399.5" y="81.2" width="9" height="2.2" fill="#000" opacity="0.22" filter="url(#b2)"/>
<rect x="373.5" y="81.3" width="9" height="1.8" fill="#000" opacity="0.6" filter="url(#b2)"/>
<rect x="373.5" y="82" width="9" height="7" fill="#000" opacity="0.18" filter="url(#b2)"/>
<rect x="347.00" y="86.40" width="10" height="2.0" rx="1.00" fill="#000" opacity="0.25" filter="url(#b2)"/>
<rect x="360.00" y="86.50" width="10" height="2.4" rx="1.20" fill="#000" opacity="0.45" filter="url(#b2)"/>
<rect x="373.00" y="86.60" width="10" height="2.8" rx="1.40" fill="#000" opacity="0.5" filter="url(#b2)"/>
<rect x="385.75" y="86.10" width="10.5" height="2.4" rx="1.20" fill="#000" opacity="1.0" filter="url(#b2)"/>
<rect x="399.50" y="86.40" width="9" height="2" rx="1.00" fill="#000" opacity="0.08" filter="url(#b2)"/>
<rect x="412.50" y="86.60" width="9" height="1.6" rx="0.80" fill="#000" opacity="0.06" filter="url(#b2)"/>
<rect x="425.50" y="86.60" width="9" height="1.6" rx="0.80" fill="#000" opacity="0.06" filter="url(#b2)"/>
<rect x="386.4" y="86.4" width="9.2" height="1.8" rx="0.9" fill="#000" filter="url(#b1)"/>
<rect x="342.3" y="100.5" width="96.20" height="28.40" fill="#f6f6f6" stroke="#333" stroke-width="0.6"/>
<rect x="347.50" y="104.20" width="9" height="1.6" rx="0.80" fill="#000" opacity="0.03" filter="url(#b2)"/>
<rect x="360.50" y="104.20" width="9" height="1.6" rx="0.80" fill="#000" opacity="0.04" filter="url(#b2)"/>
<rect x="373.50" y="104.20" width="9" height="1.6" rx="0.80" fill="#000" opacity="0.05" filter="url(#b2)"/>
<rect x="386.50" y="104.20" width="9" height="1.6" rx="0.80" fill="#000" opacity="0.07" filter="url(#b2)"/>
<rect x="412.50" y="104.20" width="9" height="1.6" rx="0.80" fill="#000" opacity="0.02" filter="url(#b2)"/>
<rect x="348.00" y="122.30" width="8" height="1.6" rx="0.80" fill="#000" opacity="0.12" filter="url(#b2)"/>
<rect x="360.25" y="121.80" width="9.5" height="2.2" rx="1.10" fill="#000" opacity="0.6" filter="url(#b2)"/>
<rect x="372.50" y="121.30" width="11" height="2.6" rx="1.30" fill="#000" opacity="0.95" filter="url(#b2)"/>
<rect x="384.50" y="120.10" width="13" height="5.0" rx="2.50" fill="#000" opacity="1.0" filter="url(#b2)"/>
<rect x="413.00" y="122.30" width="8" height="1.6" rx="0.80" fill="#000" opacity="0.06" filter="url(#b2)"/>
<rect x="385.5" y="120.6" width="11" height="4" rx="2" fill="#000" filter="url(#b1)"/>
<rect x="342.3" y="131.9" width="96.20" height="11.50" fill="#fbfbfb" stroke="#333" stroke-width="0.6"/>
<rect x="346.55" y="136.95" width="10.9" height="2.1" rx="1.05" fill="#000" opacity="0.95" filter="url(#b1)"/>
<rect x="359.05" y="136.35" width="11.9" height="3.7" rx="1.85" fill="#000" opacity="1" filter="url(#b1)"/>
<rect x="372.80" y="136.65" width="10.4" height="2.7" rx="1.35" fill="#000" opacity="0.95" filter="url(#b1)"/>
<rect x="385.55" y="136.45" width="10.9" height="2.7" rx="1.35" fill="#000" opacity="0.95" filter="url(#b1)"/>
<rect x="397.50" y="136.15" width="13.0" height="4.1" rx="2.05" fill="#000" opacity="1" filter="url(#b1)"/>
<rect x="410.80" y="136.95" width="12.4" height="3.7" rx="1.85" fill="#000" opacity="1" filter="url(#b1)"/>
<rect x="423.80" y="137.45" width="12.4" height="3.9" rx="1.95" fill="#000" opacity="1" filter="url(#b1)"/>
<path d="M337.3 48.0H339.5M338.4 48.0V96.4M337.3 96.4H339.5" stroke="#000" stroke-width="0.85" fill="none"/>
<path d="M337.3 97.2H339.5M338.4 97.2V145.0M337.3 145.0H339.5" stroke="#000" stroke-width="0.85" fill="none"/>
<path d="M337.3 148.0H339.5M338.4 148.0V263.5M337.3 263.5H339.5" stroke="#000" stroke-width="0.85" fill="none"/>
<text x="332.80" y="73.50" font-size="7.8" text-anchor="middle" font-weight="normal" font-style="normal" fill="#000" transform="rotate(-90 332.80 73.50)">IP:BRAF</text>
<text x="332.80" y="121.60" font-size="7.8" text-anchor="middle" font-weight="normal" font-style="normal" fill="#000" transform="rotate(-90 332.80 121.60)">IP:CRAF</text>
<text x="332.80" y="205.60" font-size="7.8" text-anchor="middle" font-weight="normal" font-style="normal" fill="#000" transform="rotate(-90 332.80 205.60)">Input</text>
<rect x="342.3" y="150.4" width="96.20" height="28.80" fill="#fbfbfb" stroke="#333" stroke-width="0.6"/>
<rect x="346.10" y="154.55" width="11.8" height="2.9" rx="1.45" fill="#000" opacity="1" filter="url(#b1)"/>
<rect x="359.10" y="155.45" width="11.8" height="2.9" rx="1.45" fill="#000" opacity="1" filter="url(#b1)"/>
<rect x="372.10" y="155.85" width="11.8" height="2.7" rx="1.35" fill="#000" opacity="1" filter="url(#b1)"/>
<rect x="385.10" y="155.85" width="11.8" height="2.7" rx="1.35" fill="#000" opacity="1" filter="url(#b1)"/>
<rect x="398.10" y="155.85" width="11.8" height="2.7" rx="1.35" fill="#000" opacity="1" filter="url(#b1)"/>
<rect x="411.10" y="155.55" width="11.8" height="2.7" rx="1.35" fill="#000" opacity="1" filter="url(#b1)"/>
<rect x="424.10" y="155.05" width="11.8" height="2.3000000000000003" rx="1.15" fill="#000" opacity="0.95" filter="url(#b1)"/>
<rect x="345.90" y="172.45" width="12.200000000000001" height="2.3000000000000003" rx="1.15" fill="#000" opacity="1" filter="url(#b1)"/>
<rect x="358.90" y="173.25" width="12.200000000000001" height="2.3000000000000003" rx="1.15" fill="#000" opacity="1" filter="url(#b1)"/>
<rect x="371.90" y="173.65" width="12.200000000000001" height="2.3000000000000003" rx="1.15" fill="#000" opacity="1" filter="url(#b1)"/>
<rect x="384.90" y="173.85" width="12.200000000000001" height="2.3000000000000003" rx="1.15" fill="#000" opacity="1" filter="url(#b1)"/>
<rect x="397.90" y="173.85" width="12.200000000000001" height="2.3000000000000003" rx="1.15" fill="#000" opacity="1" filter="url(#b1)"/>
<rect x="410.90" y="173.55" width="12.200000000000001" height="2.1" rx="1.05" fill="#000" opacity="0.95" filter="url(#b1)"/>
<rect x="423.90" y="172.75" width="12.200000000000001" height="2.1" rx="1.05" fill="#000" opacity="0.95" filter="url(#b1)"/>
<rect x="346.00" y="167.50" width="12.0" height="1.6" rx="0.80" fill="#000" opacity="0.06" filter="url(#b2)"/>
<rect x="359.00" y="167.50" width="12.0" height="1.6" rx="0.80" fill="#000" opacity="0.06" filter="url(#b2)"/>
<rect x="372.00" y="167.50" width="12.0" height="1.6" rx="0.80" fill="#000" opacity="0.05" filter="url(#b2)"/>
<rect x="385.00" y="167.50" width="12.0" height="1.6" rx="0.80" fill="#000" opacity="0.05" filter="url(#b2)"/>
<rect x="398.00" y="167.50" width="12.0" height="1.6" rx="0.80" fill="#000" opacity="0.04" filter="url(#b2)"/>
<rect x="411.00" y="167.50" width="12.0" height="1.6" rx="0.80" fill="#000" opacity="0.04" filter="url(#b2)"/>
<rect x="424.00" y="167.50" width="12.0" height="1.6" rx="0.80" fill="#000" opacity="0.04" filter="url(#b2)"/>
<rect x="342.3" y="182.7" width="96.20" height="12.00" fill="#fbfbfb" stroke="#333" stroke-width="0.6"/>
<rect x="346.10" y="186.85" width="11.8" height="1.5" rx="0.75" fill="#000" opacity="0.3" filter="url(#b1)"/>
<rect x="359.10" y="187.95" width="11.8" height="2.1" rx="1.05" fill="#000" opacity="0.85" filter="url(#b1)"/>
<rect x="372.10" y="188.45" width="11.8" height="2.1" rx="1.05" fill="#000" opacity="0.85" filter="url(#b1)"/>
<rect x="385.10" y="188.65" width="11.8" height="2.1" rx="1.05" fill="#000" opacity="0.9" filter="url(#b1)"/>
<rect x="398.10" y="188.55" width="11.8" height="2.5" rx="1.25" fill="#000" opacity="0.95" filter="url(#b1)"/>
<rect x="411.10" y="188.35" width="11.8" height="2.3000000000000003" rx="1.15" fill="#000" opacity="0.9" filter="url(#b1)"/>
<rect x="424.10" y="187.85" width="11.8" height="2.3000000000000003" rx="1.15" fill="#000" opacity="0.9" filter="url(#b1)"/>
<rect x="342.3" y="197.7" width="96.20" height="13.40" fill="#fbfbfb" stroke="#333" stroke-width="0.6"/>
<rect x="346.50" y="202.10" width="11" height="3.4" rx="1.70" fill="#000" opacity="1" filter="url(#b2)"/>
<rect x="359.50" y="203.50" width="11" height="2.6" rx="1.30" fill="#000" opacity="0.95" filter="url(#b2)"/>
<rect x="372.50" y="204.20" width="11" height="2.2" rx="1.10" fill="#000" opacity="0.5" filter="url(#b2)"/>
<rect x="385.50" y="204.30" width="11" height="2.0" rx="1.00" fill="#000" opacity="0.38" filter="url(#b2)"/>
<rect x="398.50" y="204.50" width="11" height="1.8" rx="0.90" fill="#000" opacity="0.12" filter="url(#b2)"/>
<rect x="411.50" y="204.60" width="11" height="1.6" rx="0.80" fill="#000" opacity="0.08" filter="url(#b2)"/>
<rect x="424.50" y="204.40" width="11" height="1.6" rx="0.80" fill="#000" opacity="0.1" filter="url(#b2)"/>
<rect x="346.80" y="202.45" width="10.4" height="2.3000000000000003" rx="1.15" fill="#000" opacity="1" filter="url(#b1)"/>
<rect x="359.80" y="203.45" width="10.4" height="2.3000000000000003" rx="1.15" fill="#000" opacity="0.6" filter="url(#b1)"/>
<rect x="342.3" y="214.3" width="96.20" height="12.70" fill="#fbfbfb" stroke="#333" stroke-width="0.6"/>
<rect x="346.20" y="219.25" width="11.6" height="2.9" rx="1.45" fill="#000" opacity="1" filter="url(#b1)"/>
<rect x="359.20" y="219.85" width="11.6" height="3.1" rx="1.55" fill="#000" opacity="1" filter="url(#b1)"/>
<rect x="372.20" y="220.05" width="11.6" height="3.1" rx="1.55" fill="#000" opacity="1" filter="url(#b1)"/>
<rect x="385.20" y="220.45" width="11.6" height="2.5" rx="1.25" fill="#000" opacity="0.95" filter="url(#b1)"/>
<rect x="398.20" y="220.85" width="11.6" height="2.1" rx="1.05" fill="#000" opacity="0.9" filter="url(#b1)"/>
<rect x="411.20" y="220.35" width="11.6" height="2.5" rx="1.25" fill="#000" opacity="0.95" filter="url(#b1)"/>
<rect x="424.20" y="219.35" width="11.6" height="3.3000000000000003" rx="1.65" fill="#000" opacity="1" filter="url(#b1)"/>
<rect x="342.3" y="230.5" width="96.20" height="13.40" fill="#ececec" stroke="#333" stroke-width="0.6"/>
<rect x="346.30" y="233.15" width="11.4" height="1.5" rx="0.75" fill="#000" opacity="0.5" filter="url(#b1)"/>
<rect x="359.30" y="234.15" width="11.4" height="1.5" rx="0.75" fill="#000" opacity="0.38" filter="url(#b1)"/>
<rect x="372.30" y="234.75" width="11.4" height="1.5" rx="0.75" fill="#000" opacity="0.22" filter="url(#b1)"/>
<rect x="385.30" y="234.95" width="11.4" height="1.5" rx="0.75" fill="#000" opacity="0.16" filter="url(#b1)"/>
<rect x="398.30" y="235.15" width="11.4" height="1.5" rx="0.75" fill="#000" opacity="0.05" filter="url(#b1)"/>
<rect x="411.30" y="235.15" width="11.4" height="1.5" rx="0.75" fill="#000" opacity="0.03" filter="url(#b1)"/>
<rect x="424.30" y="234.95" width="11.4" height="1.5" rx="0.75" fill="#000" opacity="0.03" filter="url(#b1)"/>
<rect x="346.20" y="237.05" width="11.6" height="2.1" rx="1.05" fill="#000" opacity="0.95" filter="url(#b1)"/>
<rect x="359.20" y="238.15" width="11.6" height="2.1" rx="1.05" fill="#000" opacity="0.9" filter="url(#b1)"/>
<rect x="372.20" y="238.85" width="11.6" height="1.9000000000000001" rx="0.95" fill="#000" opacity="0.75" filter="url(#b1)"/>
<rect x="385.20" y="239.15" width="11.6" height="1.7000000000000002" rx="0.85" fill="#000" opacity="0.5" filter="url(#b1)"/>
<rect x="398.20" y="239.35" width="11.6" height="1.5" rx="0.75" fill="#000" opacity="0.14" filter="url(#b1)"/>
<rect x="411.20" y="239.35" width="11.6" height="1.5" rx="0.75" fill="#000" opacity="0.08" filter="url(#b1)"/>
<rect x="424.20" y="239.15" width="11.6" height="1.5" rx="0.75" fill="#000" opacity="0.07" filter="url(#b1)"/>
<rect x="342.3" y="246.6" width="96.20" height="13.40" fill="#e0e0e0" stroke="#333" stroke-width="0.6"/>
<rect x="346.50" y="251.10" width="11" height="1.8" rx="0.90" fill="#000" opacity="0.65" filter="url(#b2)"/>
<rect x="359.50" y="251.10" width="11" height="1.8" rx="0.90" fill="#000" opacity="0.25" filter="url(#b2)"/>
<rect x="372.50" y="251.50" width="11" height="1.8" rx="0.90" fill="#000" opacity="0.2" filter="url(#b2)"/>
<rect x="385.50" y="251.70" width="11" height="1.8" rx="0.90" fill="#000" opacity="0.2" filter="url(#b2)"/>
<rect x="398.50" y="251.70" width="11" height="1.8" rx="0.90" fill="#000" opacity="0.2" filter="url(#b2)"/>
<rect x="411.50" y="251.40" width="11" height="1.8" rx="0.90" fill="#000" opacity="0.25" filter="url(#b2)"/>
<rect x="424.50" y="250.90" width="11" height="1.8" rx="0.90" fill="#000" opacity="0.3" filter="url(#b2)"/>
<rect x="346.00" y="254.55" width="12.0" height="1.7000000000000002" rx="0.85" fill="#000" opacity="0.45" filter="url(#b1)"/>
<rect x="359.00" y="255.75" width="12.0" height="2.1" rx="1.05" fill="#000" opacity="0.9" filter="url(#b1)"/>
<rect x="372.00" y="256.15" width="12.0" height="2.1" rx="1.05" fill="#000" opacity="0.9" filter="url(#b1)"/>
<rect x="385.00" y="256.35" width="12.0" height="1.9000000000000001" rx="0.95" fill="#000" opacity="0.85" filter="url(#b1)"/>
<rect x="398.00" y="256.35" width="12.0" height="1.9000000000000001" rx="0.95" fill="#000" opacity="0.85" filter="url(#b1)"/>
<rect x="411.00" y="255.95" width="12.0" height="2.1" rx="1.05" fill="#000" opacity="0.9" filter="url(#b1)"/>
<rect x="424.00" y="255.35" width="12.0" height="2.1" rx="1.05" fill="#000" opacity="0.9" filter="url(#b1)"/>
<path d="M441.3 56.9L445.2 55.0V58.8Z" fill="#000"/><path d="M444.5 56.9H450" stroke="#000" stroke-width="0.7"/>
<text x="451.3" y="59.6" font-size="7.9"><tspan font-style="italic">BRAF</tspan>-V600E (FL)</text>
<path d="M441.3 72.4L445.2 70.5V74.30000000000001Z" fill="#000"/><path d="M444.5 72.4H450" stroke="#000" stroke-width="0.7"/>
<text x="452.0" y="75.10000000000001" font-size="7.9">p61 <tspan font-style="italic">BRAF</tspan>-V600E</text>
<path d="M441.3 105.0L445.2 103.1V106.9Z" fill="#000"/><path d="M444.5 105.0H450" stroke="#000" stroke-width="0.7"/>
<text x="451.3" y="107.7" font-size="7.9"><tspan font-style="italic">BRAF</tspan>-V600E (FL)</text>
<path d="M441.3 122.6L445.2 120.69999999999999V124.5Z" fill="#000"/><path d="M444.5 122.6H450" stroke="#000" stroke-width="0.7"/>
<text x="452.0" y="125.3" font-size="7.9">p61 <tspan font-style="italic">BRAF</tspan>-V600E</text>
<path d="M441.3 156.7L445.2 154.79999999999998V158.6Z" fill="#000"/><path d="M444.5 156.7H450" stroke="#000" stroke-width="0.7"/>
<text x="451.3" y="159.39999999999998" font-size="7.9"><tspan font-style="italic">BRAF</tspan>-V600E (FL)</text>
<path d="M441.3 173.4L445.2 171.5V175.3Z" fill="#000"/><path d="M444.5 173.4H450" stroke="#000" stroke-width="0.7"/>
<text x="452.0" y="176.1" font-size="7.9">p61 <tspan font-style="italic">BRAF</tspan>-V600E</text>
<text x="440.60" y="91.90" font-size="7.85" text-anchor="start" font-weight="normal" font-style="normal" fill="#000">CRAF</text>
<text x="440.60" y="141.00" font-size="7.85" text-anchor="start" font-weight="normal" font-style="normal" fill="#000">CRAF</text>
<text x="440.60" y="190.20" font-size="7.85" text-anchor="start" font-weight="normal" font-style="normal" fill="#000">CRAF</text>
<text x="440.60" y="205.80" font-size="7.85" text-anchor="start" font-weight="normal" font-style="normal" fill="#000">pMEK</text>
<text x="440.60" y="223.80" font-size="7.85" text-anchor="start" font-weight="normal" font-style="normal" fill="#000">MEK</text>
<text x="440.60" y="237.70" font-size="7.85" text-anchor="start" font-weight="normal" font-style="normal" fill="#000">pERK</text>
<text x="440.60" y="256.40" font-size="7.85" text-anchor="start" font-weight="normal" font-style="normal" fill="#000">ERK</text>
<text x="395.50" y="274.20" font-size="7.6" text-anchor="middle" font-weight="bold" font-style="normal" fill="#000">Acquired Resistance:</text>
<text x="395.5" y="283.7" font-size="7.6" text-anchor="middle" font-weight="bold">p61 <tspan font-style="italic">BRAF</tspan> V600E</text>
<text x="139.40" y="320.40" font-size="8.0" text-anchor="middle" font-weight="bold" font-style="normal" fill="#000">Subcutaneous Class I xenografts</text>
<text x="145.8" y="335.4" font-size="8.1" text-anchor="middle">A375 <tspan font-style="italic">BRAF</tspan> V600E</text>
<text x="145.80" y="345.00" font-size="8.1" text-anchor="middle" font-weight="normal" font-style="normal" fill="#000">melanoma</text>
<text x="388.60" y="322.40" font-size="8.0" text-anchor="middle" font-weight="bold" font-style="normal" fill="#000">Intracranial Class I xenografts</text>
<text x="389.4" y="335.8" font-size="8.1" text-anchor="middle">A375 <tspan font-style="italic">BRAF</tspan> V600E</text>
<text x="389.20" y="344.80" font-size="8.1" text-anchor="middle" font-weight="normal" font-style="normal" fill="#000">melanoma</text>
<path d="M26 351.5V407.7H109" stroke="#000" stroke-width="0.7" fill="none"/>
<path d="M26 407.7v1.6" stroke="#000" stroke-width="0.6"/>
<text x="26.00" y="414.50" font-size="4.5" text-anchor="middle" font-weight="bold" font-style="normal" fill="#000">0</text>
<path d="M46.7 407.7v1.6" stroke="#000" stroke-width="0.6"/>
<text x="46.70" y="414.50" font-size="4.5" text-anchor="middle" font-weight="bold" font-style="normal" fill="#000">5</text>
<path d="M67.4 407.7v1.6" stroke="#000" stroke-width="0.6"/>
<text x="67.40" y="414.50" font-size="4.5" text-anchor="middle" font-weight="bold" font-style="normal" fill="#000">10</text>
<path d="M88.1 407.7v1.6" stroke="#000" stroke-width="0.6"/>
<text x="88.10" y="414.50" font-size="4.5" text-anchor="middle" font-weight="bold" font-style="normal" fill="#000">15</text>
<path d="M108.8 407.7v1.6" stroke="#000" stroke-width="0.6"/>
<text x="108.80" y="414.50" font-size="4.5" text-anchor="middle" font-weight="bold" font-style="normal" fill="#000">20</text>
<path d="M26 352h-1.6" stroke="#000" stroke-width="0.6"/>
<text x="23.8" y="353.50" font-size="4.5" text-anchor="end" font-weight="bold">2000</text>
<path d="M26 365.9h-1.6" stroke="#000" stroke-width="0.6"/>
<text x="23.8" y="367.40" font-size="4.5" text-anchor="end" font-weight="bold">1500</text>
<path d="M26 379.75h-1.6" stroke="#000" stroke-width="0.6"/>
<text x="23.8" y="381.25" font-size="4.5" text-anchor="end" font-weight="bold">1000</text>
<path d="M26 393.6h-1.6" stroke="#000" stroke-width="0.6"/>
<text x="23.8" y="395.10" font-size="4.5" text-anchor="end" font-weight="bold">500</text>
<path d="M26 407.5h-1.6" stroke="#000" stroke-width="0.6"/>
<text x="23.8" y="409.00" font-size="4.5" text-anchor="end" font-weight="bold">0</text>
<text x="67.50" y="420.80" font-size="4.4" text-anchor="middle" font-weight="bold" font-style="normal" fill="#000">Day</text>
<text x="9.5" y="380" font-size="4.5" font-weight="bold" text-anchor="middle" transform="rotate(-90 9.5 380)">Mean Tumor Volume (mm<tspan font-size="3" dy="-1.4">3</tspan><tspan dy="1.4"> ± SEM)</tspan></text>
<polyline points="30.50,401.75 47.00,401.90 59.50,401.60 76.25,400.80 88.75,400.30" fill="none" stroke="#b030e8" stroke-width="0.8"/>
<path d="M30.50 400.50L31.75 401.75L30.50 403.00L29.25 401.75Z" fill="#b030e8" stroke="#b030e8" stroke-width="0.4"/>
<path d="M47.00 400.65L48.25 401.90L47.00 403.15L45.75 401.90Z" fill="#b030e8" stroke="#b030e8" stroke-width="0.4"/>
<path d="M59.50 400.35L60.75 401.60L59.50 402.85L58.25 401.60Z" fill="#b030e8" stroke="#b030e8" stroke-width="0.4"/>
<path d="M76.25 399.55L77.50 400.80L76.25 402.05L75.00 400.80Z" fill="#b030e8" stroke="#b030e8" stroke-width="0.4"/>
<path d="M88.75 399.05L90.00 400.30L88.75 401.55L87.50 400.30Z" fill="#b030e8" stroke="#b030e8" stroke-width="0.4"/>
<polyline points="30.50,401.75 47.00,402.30 59.50,402.60 76.25,403.00 88.75,403.20" fill="none" stroke="#c0609a" stroke-width="0.8" stroke-dasharray="1.2 1.2"/>
<path d="M30.50 400.50L31.75 401.75L30.50 403.00L29.25 401.75Z" fill="#b08a50" stroke="#b08a50" stroke-width="0.4"/>
<path d="M47.00 401.05L48.25 402.30L47.00 403.55L45.75 402.30Z" fill="#b08a50" stroke="#b08a50" stroke-width="0.4"/>
<path d="M59.50 401.35L60.75 402.60L59.50 403.85L58.25 402.60Z" fill="#b08a50" stroke="#b08a50" stroke-width="0.4"/>
<path d="M76.25 401.75L77.50 403.00L76.25 404.25L75.00 403.00Z" fill="#b08a50" stroke="#b08a50" stroke-width="0.4"/>
<path d="M88.75 401.95L90.00 403.20L88.75 404.45L87.50 403.20Z" fill="#b08a50" stroke="#b08a50" stroke-width="0.4"/>
<polyline points="30.50,401.75 47.00,396.00 59.50,391.00 76.25,379.50 88.75,371.25" fill="none" stroke="#000" stroke-width="0.8"/>
<path d="M47.00 395.20V396.80M45.80 395.20h2.4M45.80 396.80h2.4" stroke="#000" stroke-width="0.5" fill="none"/>
<path d="M59.50 389.20V392.80M58.30 389.20h2.4M58.30 392.80h2.4" stroke="#000" stroke-width="0.5" fill="none"/>
<path d="M76.25 376.30V382.70M75.05 376.30h2.4M75.05 382.70h2.4" stroke="#000" stroke-width="0.5" fill="none"/>
<path d="M88.75 367.65V374.85M87.55 367.65h2.4M87.55 374.85h2.4" stroke="#000" stroke-width="0.5" fill="none"/>
<circle cx="30.50" cy="401.75" r="1.5" fill="#000" stroke="#000" stroke-width="0.4"/>
<circle cx="47.00" cy="396.00" r="1.5" fill="#000" stroke="#000" stroke-width="0.4"/>
<circle cx="59.50" cy="391.00" r="1.5" fill="#000" stroke="#000" stroke-width="0.4"/>
<circle cx="76.25" cy="379.50" r="1.5" fill="#000" stroke="#000" stroke-width="0.4"/>
<circle cx="88.75" cy="371.25" r="1.5" fill="#000" stroke="#000" stroke-width="0.4"/>
<path d="M29.4 352h6.2" stroke="#000" stroke-width="0.8"/>
<circle cx="32.50" cy="352.00" r="1.5" fill="#000" stroke="#000" stroke-width="0.4"/>
<text x="40.80" y="353.50" font-size="4.5" text-anchor="start" font-weight="normal" font-style="normal" fill="#000">Vehicle QD</text>
<path d="M29.4 357.5h6.2" stroke="#b030e8" stroke-width="0.8"/>
<path d="M32.50 356.25L33.75 357.50L32.50 358.75L31.25 357.50Z" fill="#b030e8" stroke="#b030e8" stroke-width="0.4"/>
<text x="40.80" y="359.00" font-size="4.5" text-anchor="start" font-weight="normal" font-style="normal" fill="#000">encorafenib 20mpk QD</text>
<path d="M29.4 363h6.2" stroke="#c0609a" stroke-width="0.8" stroke-dasharray="1.2 1.2"/>
<path d="M32.50 361.75L33.75 363.00L32.50 364.25L31.25 363.00Z" fill="#b08a50" stroke="#b08a50" stroke-width="0.4"/>
<text x="40.80" y="364.50" font-size="4.5" text-anchor="start" font-weight="normal" font-style="normal" fill="#000">enco 20mpk QD + bini 3.5mpk BID</text>
<path d="M123 351.5V407.0H205.5" stroke="#000" stroke-width="0.7" fill="none"/>
<path d="M123 407.0v1.6" stroke="#000" stroke-width="0.6"/>
<text x="123.00" y="413.80" font-size="4.5" text-anchor="middle" font-weight="bold" font-style="normal" fill="#000">0</text>
<path d="M143.5 407.0v1.6" stroke="#000" stroke-width="0.6"/>
<text x="143.50" y="413.80" font-size="4.5" text-anchor="middle" font-weight="bold" font-style="normal" fill="#000">5</text>
<path d="M164 407.0v1.6" stroke="#000" stroke-width="0.6"/>
<text x="164.00" y="413.80" font-size="4.5" text-anchor="middle" font-weight="bold" font-style="normal" fill="#000">10</text>
<path d="M184.5 407.0v1.6" stroke="#000" stroke-width="0.6"/>
<text x="184.50" y="413.80" font-size="4.5" text-anchor="middle" font-weight="bold" font-style="normal" fill="#000">15</text>
<path d="M205 407.0v1.6" stroke="#000" stroke-width="0.6"/>
<text x="205.00" y="413.80" font-size="4.5" text-anchor="middle" font-weight="bold" font-style="normal" fill="#000">20</text>
<path d="M123 351.5h-1.6" stroke="#000" stroke-width="0.6"/>
<path d="M123 365.4h-1.6" stroke="#000" stroke-width="0.6"/>
<path d="M123 379.25h-1.6" stroke="#000" stroke-width="0.6"/>
<path d="M123 393.1h-1.6" stroke="#000" stroke-width="0.6"/>
<path d="M123 407.0h-1.6" stroke="#000" stroke-width="0.6"/>
<text x="164.00" y="420.10" font-size="4.4" text-anchor="middle" font-weight="bold" font-style="normal" fill="#000">Day</text>
<polyline points="127.00,400.25 139.25,404.50 147.50,405.75 155.75,406.20 172.00,406.20 184.25,406.40" fill="none" stroke="#4444ff" stroke-width="0.8"/>
<rect x="125.60" y="398.85" width="2.8" height="2.8" fill="#4444ff" stroke="#4444ff" stroke-width="0.3"/>
<rect x="137.85" y="403.10" width="2.8" height="2.8" fill="#4444ff" stroke="#4444ff" stroke-width="0.3"/>
<rect x="146.10" y="404.35" width="2.8" height="2.8" fill="#4444ff" stroke="#4444ff" stroke-width="0.3"/>
<rect x="154.35" y="404.80" width="2.8" height="2.8" fill="#4444ff" stroke="#4444ff" stroke-width="0.3"/>
<rect x="170.60" y="404.80" width="2.8" height="2.8" fill="#4444ff" stroke="#4444ff" stroke-width="0.3"/>
<rect x="182.85" y="405.00" width="2.8" height="2.8" fill="#4444ff" stroke="#4444ff" stroke-width="0.3"/>
<polyline points="127.00,400.25 139.25,395.50 147.50,390.75 155.75,387.50 172.00,376.25 184.25,376.25" fill="none" stroke="#ff8000" stroke-width="0.8"/>
<path d="M139.25 394.70V396.30M138.05 394.70h2.4M138.05 396.30h2.4" stroke="#ff8000" stroke-width="0.5" fill="none"/>
<path d="M147.50 389.25V392.25M146.30 389.25h2.4M146.30 392.25h2.4" stroke="#ff8000" stroke-width="0.5" fill="none"/>
<path d="M155.75 386.00V389.00M154.55 386.00h2.4M154.55 389.00h2.4" stroke="#ff8000" stroke-width="0.5" fill="none"/>
<path d="M172.00 374.05V378.45M170.80 374.05h2.4M170.80 378.45h2.4" stroke="#ff8000" stroke-width="0.5" fill="none"/>
<path d="M184.25 373.25V379.25M183.05 373.25h2.4M183.05 379.25h2.4" stroke="#ff8000" stroke-width="0.5" fill="none"/>
<path d="M127.00 401.68L128.43 399.08H125.57Z" fill="#ff8000" stroke="#ff8000" stroke-width="0.3"/>
<path d="M139.25 396.93L140.68 394.33H137.82Z" fill="#ff8000" stroke="#ff8000" stroke-width="0.3"/>
<path d="M147.50 392.18L148.93 389.58H146.07Z" fill="#ff8000" stroke="#ff8000" stroke-width="0.3"/>
<path d="M155.75 388.93L157.18 386.33H154.32Z" fill="#ff8000" stroke="#ff8000" stroke-width="0.3"/>
<path d="M172.00 377.68L173.43 375.08H170.57Z" fill="#ff8000" stroke="#ff8000" stroke-width="0.3"/>
<path d="M184.25 377.68L185.68 375.08H182.82Z" fill="#ff8000" stroke="#ff8000" stroke-width="0.3"/>
<polyline points="127.00,400.25 139.25,398.50 147.50,396.25 155.75,395.50 172.00,373.75 184.25,369.25" fill="none" stroke="#000" stroke-width="0.8"/>
<path d="M139.25 398.00V399.00M138.05 398.00h2.4M138.05 399.00h2.4" stroke="#000" stroke-width="0.5" fill="none"/>
<path d="M147.50 395.45V397.05M146.30 395.45h2.4M146.30 397.05h2.4" stroke="#000" stroke-width="0.5" fill="none"/>
<path d="M155.75 394.70V396.30M154.55 394.70h2.4M154.55 396.30h2.4" stroke="#000" stroke-width="0.5" fill="none"/>
<path d="M172.00 369.95V377.55M170.80 369.95h2.4M170.80 377.55h2.4" stroke="#000" stroke-width="0.5" fill="none"/>
<path d="M184.25 365.05V373.45M183.05 365.05h2.4M183.05 373.45h2.4" stroke="#000" stroke-width="0.5" fill="none"/>
<circle cx="127.00" cy="400.25" r="1.5" fill="#000" stroke="#000" stroke-width="0.4"/>
<circle cx="139.25" cy="398.50" r="1.5" fill="#000" stroke="#000" stroke-width="0.4"/>
<circle cx="147.50" cy="396.25" r="1.5" fill="#000" stroke="#000" stroke-width="0.4"/>
<circle cx="155.75" cy="395.50" r="1.5" fill="#000" stroke="#000" stroke-width="0.4"/>
<circle cx="172.00" cy="373.75" r="1.5" fill="#000" stroke="#000" stroke-width="0.4"/>
<circle cx="184.25" cy="369.25" r="1.5" fill="#000" stroke="#000" stroke-width="0.4"/>
<path d="M123.2 351.8h6.2" stroke="#000" stroke-width="0.8"/>
<circle cx="126.30" cy="351.80" r="1.5" fill="#000" stroke="#000" stroke-width="0.4"/>
<text x="133.00" y="353.30" font-size="4.5" text-anchor="start" font-weight="normal" font-style="normal" fill="#000">Vehicle QD</text>
<path d="M123.2 357.5h6.2" stroke="#ff8000" stroke-width="0.8"/>
<path d="M126.30 358.93L127.73 356.33H124.87Z" fill="#ff8000" stroke="#ff8000" stroke-width="0.3"/>
<text x="133.00" y="359.00" font-size="4.5" text-anchor="start" font-weight="normal" font-style="normal" fill="#000">plixorafenib 75mpk QD</text>
<path d="M123.2 363.3h6.2" stroke="#4444ff" stroke-width="0.8"/>
<rect x="124.90" y="361.90" width="2.8" height="2.8" fill="#4444ff" stroke="#4444ff" stroke-width="0.3"/>
<text x="133.00" y="364.80" font-size="4.5" text-anchor="start" font-weight="normal" font-style="normal" fill="#000">PF-07799933 30mpk QD</text>
<path d="M219.5 351.5V407.0H302" stroke="#000" stroke-width="0.7" fill="none"/>
<path d="M219.5 407.0v1.6" stroke="#000" stroke-width="0.6"/>
<text x="219.50" y="413.80" font-size="4.5" text-anchor="middle" font-weight="bold" font-style="normal" fill="#000">0</text>
<path d="M240 407.0v1.6" stroke="#000" stroke-width="0.6"/>
<text x="240.00" y="413.80" font-size="4.5" text-anchor="middle" font-weight="bold" font-style="normal" fill="#000">5</text>
<path d="M260.5 407.0v1.6" stroke="#000" stroke-width="0.6"/>
<text x="260.50" y="413.80" font-size="4.5" text-anchor="middle" font-weight="bold" font-style="normal" fill="#000">10</text>
<path d="M281 407.0v1.6" stroke="#000" stroke-width="0.6"/>
<text x="281.00" y="413.80" font-size="4.5" text-anchor="middle" font-weight="bold" font-style="normal" fill="#000">15</text>
<path d="M301.7 407.0v1.6" stroke="#000" stroke-width="0.6"/>
<text x="301.70" y="413.80" font-size="4.5" text-anchor="middle" font-weight="bold" font-style="normal" fill="#000">20</text>
<path d="M219.5 351.5h-1.6" stroke="#000" stroke-width="0.6"/>
<path d="M219.5 365.4h-1.6" stroke="#000" stroke-width="0.6"/>
<path d="M219.5 379.25h-1.6" stroke="#000" stroke-width="0.6"/>
<path d="M219.5 393.1h-1.6" stroke="#000" stroke-width="0.6"/>
<path d="M219.5 407.0h-1.6" stroke="#000" stroke-width="0.6"/>
<text x="261.00" y="420.10" font-size="4.4" text-anchor="middle" font-weight="bold" font-style="normal" fill="#000">Day</text>
<polyline points="223.25,400.75 235.00,402.25 251.75,402.25 263.75,402.75 280.75,403.00" fill="none" stroke="#b4b4ff" stroke-width="0.8"/>
<rect x="221.85" y="399.35" width="2.8" height="2.8" fill="#b4b4ff" stroke="#b4b4ff" stroke-width="0.3"/>
<rect x="233.60" y="400.85" width="2.8" height="2.8" fill="#b4b4ff" stroke="#b4b4ff" stroke-width="0.3"/>
<rect x="250.35" y="400.85" width="2.8" height="2.8" fill="#b4b4ff" stroke="#b4b4ff" stroke-width="0.3"/>
<rect x="262.35" y="401.35" width="2.8" height="2.8" fill="#b4b4ff" stroke="#b4b4ff" stroke-width="0.3"/>
<rect x="279.35" y="401.60" width="2.8" height="2.8" fill="#b4b4ff" stroke="#b4b4ff" stroke-width="0.3"/>
<polyline points="223.25,400.75 235.00,399.50 251.75,396.75 263.75,392.75 280.75,385.25" fill="none" stroke="#ff3030" stroke-width="0.8"/>
<path d="M251.75 396.15V397.35M250.55 396.15h2.4M250.55 397.35h2.4" stroke="#ff3030" stroke-width="0.5" fill="none"/>
<path d="M263.75 391.95V393.55M262.55 391.95h2.4M262.55 393.55h2.4" stroke="#ff3030" stroke-width="0.5" fill="none"/>
<path d="M280.75 383.65V386.85M279.55 383.65h2.4M279.55 386.85h2.4" stroke="#ff3030" stroke-width="0.5" fill="none"/>
<path d="M223.25 399.43L224.57 401.83H221.93Z" fill="#ff3030" stroke="#ff3030" stroke-width="0.3"/>
<path d="M235.00 398.18L236.32 400.58H233.68Z" fill="#ff3030" stroke="#ff3030" stroke-width="0.3"/>
<path d="M251.75 395.43L253.07 397.83H250.43Z" fill="#ff3030" stroke="#ff3030" stroke-width="0.3"/>
<path d="M263.75 391.43L265.07 393.83H262.43Z" fill="#ff3030" stroke="#ff3030" stroke-width="0.3"/>
<path d="M280.75 383.93L282.07 386.33H279.43Z" fill="#ff3030" stroke="#ff3030" stroke-width="0.3"/>
<polyline points="223.25,400.75 235.00,398.00 251.75,389.50 263.75,381.25 280.75,365.00" fill="none" stroke="#000" stroke-width="0.8"/>
<path d="M235.00 397.20V398.80M233.80 397.20h2.4M233.80 398.80h2.4" stroke="#000" stroke-width="0.5" fill="none"/>
<path d="M251.75 386.90V392.10M250.55 386.90h2.4M250.55 392.10h2.4" stroke="#000" stroke-width="0.5" fill="none"/>
<path d="M263.75 378.45V384.05M262.55 378.45h2.4M262.55 384.05h2.4" stroke="#000" stroke-width="0.5" fill="none"/>
<path d="M280.75 359.40V370.60M279.55 359.40h2.4M279.55 370.60h2.4" stroke="#000" stroke-width="0.5" fill="none"/>
<circle cx="223.25" cy="400.75" r="1.5" fill="#000" stroke="#000" stroke-width="0.4"/>
<circle cx="235.00" cy="398.00" r="1.5" fill="#000" stroke="#000" stroke-width="0.4"/>
<circle cx="251.75" cy="389.50" r="1.5" fill="#000" stroke="#000" stroke-width="0.4"/>
<circle cx="263.75" cy="381.25" r="1.5" fill="#000" stroke="#000" stroke-width="0.4"/>
<circle cx="280.75" cy="365.00" r="1.5" fill="#000" stroke="#000" stroke-width="0.4"/>
<path d="M220.20000000000002 352h6.2" stroke="#000" stroke-width="0.8"/>
<circle cx="223.30" cy="352.00" r="1.5" fill="#000" stroke="#000" stroke-width="0.4"/>
<text x="230.80" y="353.50" font-size="4.5" text-anchor="start" font-weight="normal" font-style="normal" fill="#000">Vehicle QD</text>
<path d="M220.20000000000002 357.8h6.2" stroke="#ff3030" stroke-width="0.8"/>
<path d="M223.30 356.48L224.62 358.88H221.98Z" fill="#ff3030" stroke="#ff3030" stroke-width="0.3"/>
<text x="230.80" y="359.30" font-size="4.5" text-anchor="start" font-weight="normal" font-style="normal" fill="#000">exarafenib 20mpk BID</text>
<path d="M220.20000000000002 363.3h6.2" stroke="#b4b4ff" stroke-width="0.8"/>
<rect x="221.90" y="361.90" width="2.8" height="2.8" fill="#b4b4ff" stroke="#b4b4ff" stroke-width="0.3"/>
<text x="230.80" y="364.80" font-size="4.5" text-anchor="start" font-weight="normal" font-style="normal" fill="#000">PF-07799933 1mpk QD</text>
<path d="M333.3 351.4V406.3H414.8" stroke="#000" stroke-width="0.7" fill="none"/>
<path d="M333.3 406.3v1.6" stroke="#000" stroke-width="0.6"/>
<text x="333.30" y="413.00" font-size="4.5" text-anchor="middle" font-weight="bold" font-style="normal" fill="#000">0</text>
<path d="M360.3 406.3v1.6" stroke="#000" stroke-width="0.6"/>
<text x="360.30" y="413.00" font-size="4.5" text-anchor="middle" font-weight="bold" font-style="normal" fill="#000">10</text>
<path d="M387.3 406.3v1.6" stroke="#000" stroke-width="0.6"/>
<text x="387.30" y="413.00" font-size="4.5" text-anchor="middle" font-weight="bold" font-style="normal" fill="#000">20</text>
<path d="M414.3 406.3v1.6" stroke="#000" stroke-width="0.6"/>
<text x="414.30" y="413.00" font-size="4.5" text-anchor="middle" font-weight="bold" font-style="normal" fill="#000">30</text>
<path d="M333.3 351.9h-1.6" stroke="#000" stroke-width="0.6"/>
<text x="331.1" y="353.40" font-size="4.5" text-anchor="end" font-weight="bold">10<tspan font-size="2.8" dy="-1.5">11</tspan></text>
<path d="M333.3 359.59999999999997h-1.6" stroke="#000" stroke-width="0.6"/>
<text x="331.1" y="361.10" font-size="4.5" text-anchor="end" font-weight="bold">10<tspan font-size="2.8" dy="-1.5">10</tspan></text>
<path d="M333.3 367.29999999999995h-1.6" stroke="#000" stroke-width="0.6"/>
<text x="331.1" y="368.80" font-size="4.5" text-anchor="end" font-weight="bold">10<tspan font-size="2.8" dy="-1.5">9</tspan></text>
<path d="M333.3 375.0h-1.6" stroke="#000" stroke-width="0.6"/>
<text x="331.1" y="376.50" font-size="4.5" text-anchor="end" font-weight="bold">10<tspan font-size="2.8" dy="-1.5">8</tspan></text>
<path d="M333.3 382.7h-1.6" stroke="#000" stroke-width="0.6"/>
<text x="331.1" y="384.20" font-size="4.5" text-anchor="end" font-weight="bold">10<tspan font-size="2.8" dy="-1.5">7</tspan></text>
<path d="M333.3 390.4h-1.6" stroke="#000" stroke-width="0.6"/>
<text x="331.1" y="391.90" font-size="4.5" text-anchor="end" font-weight="bold">10<tspan font-size="2.8" dy="-1.5">6</tspan></text>
<path d="M333.3 398.09999999999997h-1.6" stroke="#000" stroke-width="0.6"/>
<text x="331.1" y="399.60" font-size="4.5" text-anchor="end" font-weight="bold">10<tspan font-size="2.8" dy="-1.5">5</tspan></text>
<path d="M333.3 405.79999999999995h-1.6" stroke="#000" stroke-width="0.6"/>
<text x="331.1" y="407.30" font-size="4.5" text-anchor="end" font-weight="bold">10<tspan font-size="2.8" dy="-1.5">4</tspan></text>
<text x="372.60" y="418.90" font-size="4.4" text-anchor="middle" font-weight="bold" font-style="normal" fill="#000">Day</text>
<text x="314.4" y="378.6" font-size="4.5" font-weight="bold" text-anchor="middle" transform="rotate(-90 314.4 378.6)">Average Total Flux (p/s)</text>
<polyline points="349.80,376.00 357.60,370.70 368.60,372.40 376.60,374.90 387.60,372.80 395.30,375.50 406.30,379.80 414.30,378.50" fill="none" stroke="#c8b87a" stroke-width="0.8" stroke-dasharray="1.4 1.2"/>
<path d="M349.80 374.50V377.50M348.60 374.50h2.4M348.60 377.50h2.4" stroke="#c8b87a" stroke-width="0.5" fill="none"/>
<path d="M357.60 369.50V371.90M356.40 369.50h2.4M356.40 371.90h2.4" stroke="#c8b87a" stroke-width="0.5" fill="none"/>
<path d="M368.60 369.90V374.90M367.40 369.90h2.4M367.40 374.90h2.4" stroke="#c8b87a" stroke-width="0.5" fill="none"/>
<path d="M376.60 369.40V380.40M375.40 369.40h2.4M375.40 380.40h2.4" stroke="#c8b87a" stroke-width="0.5" fill="none"/>
<path d="M387.60 364.30V381.30M386.40 364.30h2.4M386.40 381.30h2.4" stroke="#c8b87a" stroke-width="0.5" fill="none"/>
<path d="M395.30 369.50V381.50M394.10 369.50h2.4M394.10 381.50h2.4" stroke="#c8b87a" stroke-width="0.5" fill="none"/>
<path d="M349.80 374.88L350.93 376.00L349.80 377.12L348.68 376.00Z" fill="#b050a0" stroke="#b050a0" stroke-width="0.4"/>
<path d="M357.60 369.57L358.73 370.70L357.60 371.82L356.48 370.70Z" fill="#b050a0" stroke="#b050a0" stroke-width="0.4"/>
<path d="M368.60 371.27L369.73 372.40L368.60 373.52L367.48 372.40Z" fill="#b050a0" stroke="#b050a0" stroke-width="0.4"/>
<path d="M376.60 373.77L377.73 374.90L376.60 376.02L375.48 374.90Z" fill="#b050a0" stroke="#b050a0" stroke-width="0.4"/>
<path d="M387.60 371.68L388.73 372.80L387.60 373.93L386.48 372.80Z" fill="#b050a0" stroke="#b050a0" stroke-width="0.4"/>
<path d="M395.30 374.38L396.43 375.50L395.30 376.62L394.18 375.50Z" fill="#b050a0" stroke="#b050a0" stroke-width="0.4"/>
<path d="M406.30 378.68L407.43 379.80L406.30 380.93L405.18 379.80Z" fill="#b050a0" stroke="#b050a0" stroke-width="0.4"/>
<path d="M414.30 377.38L415.43 378.50L414.30 379.62L413.18 378.50Z" fill="#b050a0" stroke="#b050a0" stroke-width="0.4"/>
<polyline points="349.80,374.90 357.60,370.70 368.60,369.60 376.60,370.30 387.60,366.00 395.30,362.80 406.30,362.20 414.30,362.40" fill="none" stroke="#b000e0" stroke-width="0.8"/>
<path d="M349.80 372.40V377.40M348.60 372.40h2.4M348.60 377.40h2.4" stroke="#b000e0" stroke-width="0.5" fill="none"/>
<path d="M357.60 369.70V371.70M356.40 369.70h2.4M356.40 371.70h2.4" stroke="#b000e0" stroke-width="0.5" fill="none"/>
<path d="M368.60 367.80V371.40M367.40 367.80h2.4M367.40 371.40h2.4" stroke="#b000e0" stroke-width="0.5" fill="none"/>
<path d="M376.60 368.10V372.50M375.40 368.10h2.4M375.40 372.50h2.4" stroke="#b000e0" stroke-width="0.5" fill="none"/>
<path d="M387.60 363.80V368.20M386.40 363.80h2.4M386.40 368.20h2.4" stroke="#b000e0" stroke-width="0.5" fill="none"/>
<path d="M395.30 360.20V365.40M394.10 360.20h2.4M394.10 365.40h2.4" stroke="#b000e0" stroke-width="0.5" fill="none"/>
<path d="M406.30 359.60V364.80M405.10 359.60h2.4M405.10 364.80h2.4" stroke="#b000e0" stroke-width="0.5" fill="none"/>
<path d="M414.30 360.60V364.20M413.10 360.60h2.4M413.10 364.20h2.4" stroke="#b000e0" stroke-width="0.5" fill="none"/>
<path d="M349.80 373.80L350.90 375.80H348.70Z" fill="#b000e0" stroke="#b000e0" stroke-width="0.3"/>
<path d="M357.60 369.60L358.70 371.60H356.50Z" fill="#b000e0" stroke="#b000e0" stroke-width="0.3"/>
<path d="M368.60 368.50L369.70 370.50H367.50Z" fill="#b000e0" stroke="#b000e0" stroke-width="0.3"/>
<path d="M376.60 369.20L377.70 371.20H375.50Z" fill="#b000e0" stroke="#b000e0" stroke-width="0.3"/>
<path d="M387.60 364.90L388.70 366.90H386.50Z" fill="#b000e0" stroke="#b000e0" stroke-width="0.3"/>
<path d="M395.30 361.70L396.40 363.70H394.20Z" fill="#b000e0" stroke="#b000e0" stroke-width="0.3"/>
<path d="M406.30 361.10L407.40 363.10H405.20Z" fill="#b000e0" stroke="#b000e0" stroke-width="0.3"/>
<path d="M414.30 361.30L415.40 363.30H413.20Z" fill="#b000e0" stroke="#b000e0" stroke-width="0.3"/>
<polyline points="349.80,376.00 357.60,367.10 368.60,362.80 376.60,365.00 387.60,362.80 395.30,358.60 406.30,356.90 414.30,358.60" fill="none" stroke="#b8a868" stroke-width="0.8"/>
<path d="M349.80 373.50V378.50M348.60 373.50h2.4M348.60 378.50h2.4" stroke="#b8a868" stroke-width="0.5" fill="none"/>
<path d="M357.60 364.60V369.60M356.40 364.60h2.4M356.40 369.60h2.4" stroke="#b8a868" stroke-width="0.5" fill="none"/>
<path d="M368.60 360.00V365.60M367.40 360.00h2.4M367.40 365.60h2.4" stroke="#b8a868" stroke-width="0.5" fill="none"/>
<path d="M376.60 362.20V367.80M375.40 362.20h2.4M375.40 367.80h2.4" stroke="#b8a868" stroke-width="0.5" fill="none"/>
<path d="M387.60 360.00V365.60M386.40 360.00h2.4M386.40 365.60h2.4" stroke="#b8a868" stroke-width="0.5" fill="none"/>
<path d="M395.30 356.40V360.80M394.10 356.40h2.4M394.10 360.80h2.4" stroke="#b8a868" stroke-width="0.5" fill="none"/>
<path d="M406.30 355.40V358.40M405.10 355.40h2.4M405.10 358.40h2.4" stroke="#b8a868" stroke-width="0.5" fill="none"/>
<path d="M414.30 357.10V360.10M413.10 357.10h2.4M413.10 360.10h2.4" stroke="#b8a868" stroke-width="0.5" fill="none"/>
<circle cx="349.80" cy="376.00" r="1.4" fill="#e0d4a8" stroke="#b8a868" stroke-width="0.4"/>
<circle cx="357.60" cy="367.10" r="1.4" fill="#e0d4a8" stroke="#b8a868" stroke-width="0.4"/>
<circle cx="368.60" cy="362.80" r="1.4" fill="#e0d4a8" stroke="#b8a868" stroke-width="0.4"/>
<circle cx="376.60" cy="365.00" r="1.4" fill="#e0d4a8" stroke="#b8a868" stroke-width="0.4"/>
<circle cx="387.60" cy="362.80" r="1.4" fill="#e0d4a8" stroke="#b8a868" stroke-width="0.4"/>
<circle cx="395.30" cy="358.60" r="1.4" fill="#e0d4a8" stroke="#b8a868" stroke-width="0.4"/>
<circle cx="406.30" cy="356.90" r="1.4" fill="#e0d4a8" stroke="#b8a868" stroke-width="0.4"/>
<circle cx="414.30" cy="358.60" r="1.4" fill="#e0d4a8" stroke="#b8a868" stroke-width="0.4"/>
<polyline points="349.80,372.80 357.60,364.30 368.60,358.60 376.60,360.30 387.60,356.90 395.30,355.20" fill="none" stroke="#000" stroke-width="0.8"/>
<path d="M349.80 370.60V375.00M348.60 370.60h2.4M348.60 375.00h2.4" stroke="#000" stroke-width="0.5" fill="none"/>
<path d="M357.60 362.30V366.30M356.40 362.30h2.4M356.40 366.30h2.4" stroke="#000" stroke-width="0.5" fill="none"/>
<path d="M368.60 356.60V360.60M367.40 356.60h2.4M367.40 360.60h2.4" stroke="#000" stroke-width="0.5" fill="none"/>
<path d="M376.60 358.30V362.30M375.40 358.30h2.4M375.40 362.30h2.4" stroke="#000" stroke-width="0.5" fill="none"/>
<path d="M387.60 354.90V358.90M386.40 354.90h2.4M386.40 358.90h2.4" stroke="#000" stroke-width="0.5" fill="none"/>
<path d="M395.30 353.20V357.20M394.10 353.20h2.4M394.10 357.20h2.4" stroke="#000" stroke-width="0.5" fill="none"/>
<rect x="348.45" y="371.45" width="2.7" height="2.7" fill="#000" stroke="#000" stroke-width="0.3"/>
<rect x="356.25" y="362.95" width="2.7" height="2.7" fill="#000" stroke="#000" stroke-width="0.3"/>
<rect x="367.25" y="357.25" width="2.7" height="2.7" fill="#000" stroke="#000" stroke-width="0.3"/>
<rect x="375.25" y="358.95" width="2.7" height="2.7" fill="#000" stroke="#000" stroke-width="0.3"/>
<rect x="386.25" y="355.55" width="2.7" height="2.7" fill="#000" stroke="#000" stroke-width="0.3"/>
<rect x="393.95" y="353.85" width="2.7" height="2.7" fill="#000" stroke="#000" stroke-width="0.3"/>
<path d="M334.4 386.0h6.2" stroke="#000" stroke-width="0.8"/>
<rect x="336.20" y="384.70" width="2.6" height="2.6" fill="#000" stroke="#000" stroke-width="0.3"/>
<text x="344.50" y="387.50" font-size="4.5" text-anchor="start" font-weight="normal" font-style="normal" fill="#000">Vehicle QD</text>
<path d="M334.4 391.2h6.2" stroke="#b000e0" stroke-width="0.8"/>
<path d="M337.50 390.10L338.60 392.10H336.40Z" fill="#b000e0" stroke="#b000e0" stroke-width="0.3"/>
<text x="344.50" y="392.70" font-size="4.5" text-anchor="start" font-weight="normal" font-style="normal" fill="#000">encorafenib 60mpk QD</text>
<path d="M334.4 396.4h6.2" stroke="#b0a060" stroke-width="0.8"/>
<circle cx="337.50" cy="396.40" r="1.4" fill="#e0d4a8" stroke="#b0a060" stroke-width="0.4"/>
<text x="344.50" y="397.90" font-size="4.5" text-anchor="start" font-weight="normal" font-style="normal" fill="#000">binimetinib 3.5mpk BID</text>
<path d="M334.4 402.2h6.2" stroke="#c8b87a" stroke-width="0.8" stroke-dasharray="1.4 1.2"/>
<path d="M337.50 401.07L338.62 402.20L337.50 403.32L336.38 402.20Z" fill="#b050a0" stroke="#b050a0" stroke-width="0.4"/>
<text x="344.50" y="403.70" font-size="4.5" text-anchor="start" font-weight="normal" font-style="normal" fill="#000">enco 60mpk QD + bin 3.5mpk BID</text>
<path d="M430.5 351.2V405.9H511" stroke="#000" stroke-width="0.7" fill="none"/>
<path d="M430.5 405.9v1.6" stroke="#000" stroke-width="0.6"/>
<text x="430.50" y="413.10" font-size="4.5" text-anchor="middle" font-weight="bold" font-style="normal" fill="#000">0</text>
<path d="M446.4 405.9v1.6" stroke="#000" stroke-width="0.6"/>
<text x="446.40" y="413.10" font-size="4.5" text-anchor="middle" font-weight="bold" font-style="normal" fill="#000">10</text>
<path d="M462.4 405.9v1.6" stroke="#000" stroke-width="0.6"/>
<text x="462.40" y="413.10" font-size="4.5" text-anchor="middle" font-weight="bold" font-style="normal" fill="#000">20</text>
<path d="M478.4 405.9v1.6" stroke="#000" stroke-width="0.6"/>
<text x="478.40" y="413.10" font-size="4.5" text-anchor="middle" font-weight="bold" font-style="normal" fill="#000">30</text>
<path d="M494.4 405.9v1.6" stroke="#000" stroke-width="0.6"/>
<text x="494.40" y="413.10" font-size="4.5" text-anchor="middle" font-weight="bold" font-style="normal" fill="#000">40</text>
<path d="M510.4 405.9v1.6" stroke="#000" stroke-width="0.6"/>
<text x="510.40" y="413.10" font-size="4.5" text-anchor="middle" font-weight="bold" font-style="normal" fill="#000">50</text>
<path d="M430.5 351.9h-1.6" stroke="#000" stroke-width="0.6"/>
<path d="M430.5 359.59999999999997h-1.6" stroke="#000" stroke-width="0.6"/>
<path d="M430.5 367.29999999999995h-1.6" stroke="#000" stroke-width="0.6"/>
<path d="M430.5 375.0h-1.6" stroke="#000" stroke-width="0.6"/>
<path d="M430.5 382.7h-1.6" stroke="#000" stroke-width="0.6"/>
<path d="M430.5 390.4h-1.6" stroke="#000" stroke-width="0.6"/>
<path d="M430.5 398.09999999999997h-1.6" stroke="#000" stroke-width="0.6"/>
<path d="M430.5 405.79999999999995h-1.6" stroke="#000" stroke-width="0.6"/>
<text x="470.00" y="421.10" font-size="4.4" text-anchor="middle" font-weight="bold" font-style="normal" fill="#000">Day</text>
<polyline points="441.30,373.20 446.40,374.50 452.70,379.80 457.60,381.90 463.90,386.10 468.60,386.10 474.90,387.60 479.80,387.60 486.20,388.20 497.20,388.20 508.40,387.80" fill="none" stroke="#8cb8f8" stroke-width="0.8"/>
<rect x="439.80" y="371.70" width="3.0" height="3.0" fill="#8cb8f8" stroke="#8cb8f8" stroke-width="0.3"/>
<rect x="444.90" y="373.00" width="3.0" height="3.0" fill="#8cb8f8" stroke="#8cb8f8" stroke-width="0.3"/>
<rect x="451.20" y="378.30" width="3.0" height="3.0" fill="#8cb8f8" stroke="#8cb8f8" stroke-width="0.3"/>
<rect x="456.10" y="380.40" width="3.0" height="3.0" fill="#8cb8f8" stroke="#8cb8f8" stroke-width="0.3"/>
<rect x="462.40" y="384.60" width="3.0" height="3.0" fill="#8cb8f8" stroke="#8cb8f8" stroke-width="0.3"/>
<rect x="467.10" y="384.60" width="3.0" height="3.0" fill="#8cb8f8" stroke="#8cb8f8" stroke-width="0.3"/>
<rect x="473.40" y="386.10" width="3.0" height="3.0" fill="#8cb8f8" stroke="#8cb8f8" stroke-width="0.3"/>
<rect x="478.30" y="386.10" width="3.0" height="3.0" fill="#8cb8f8" stroke="#8cb8f8" stroke-width="0.3"/>
<rect x="484.70" y="386.70" width="3.0" height="3.0" fill="#8cb8f8" stroke="#8cb8f8" stroke-width="0.3"/>
<rect x="495.70" y="386.70" width="3.0" height="3.0" fill="#8cb8f8" stroke="#8cb8f8" stroke-width="0.3"/>
<rect x="506.90" y="386.30" width="3.0" height="3.0" fill="#8cb8f8" stroke="#8cb8f8" stroke-width="0.3"/>
<polyline points="441.30,373.20 446.40,378.10 452.70,383.40 457.60,386.10 463.90,390.80 468.60,390.80 474.90,390.80 479.80,390.80 486.20,393.30 497.20,392.90 508.40,392.50" fill="none" stroke="#3c8cf0" stroke-width="0.8"/>
<path d="M452.70 382.40V384.40M451.50 382.40h2.4M451.50 384.40h2.4" stroke="#3c8cf0" stroke-width="0.5" fill="none"/>
<path d="M457.60 385.10V387.10M456.40 385.10h2.4M456.40 387.10h2.4" stroke="#3c8cf0" stroke-width="0.5" fill="none"/>
<path d="M463.90 389.20V392.40M462.70 389.20h2.4M462.70 392.40h2.4" stroke="#3c8cf0" stroke-width="0.5" fill="none"/>
<path d="M468.60 389.20V392.40M467.40 389.20h2.4M467.40 392.40h2.4" stroke="#3c8cf0" stroke-width="0.5" fill="none"/>
<path d="M474.90 389.20V392.40M473.70 389.20h2.4M473.70 392.40h2.4" stroke="#3c8cf0" stroke-width="0.5" fill="none"/>
<path d="M479.80 389.20V392.40M478.60 389.20h2.4M478.60 392.40h2.4" stroke="#3c8cf0" stroke-width="0.5" fill="none"/>
<path d="M486.20 392.30V394.30M485.00 392.30h2.4M485.00 394.30h2.4" stroke="#3c8cf0" stroke-width="0.5" fill="none"/>
<path d="M497.20 391.90V393.90M496.00 391.90h2.4M496.00 393.90h2.4" stroke="#3c8cf0" stroke-width="0.5" fill="none"/>
<path d="M508.40 391.50V393.50M507.20 391.50h2.4M507.20 393.50h2.4" stroke="#3c8cf0" stroke-width="0.5" fill="none"/>
<path d="M441.30 371.77L442.73 374.37H439.87Z" fill="#3c8cf0" stroke="#3c8cf0" stroke-width="0.3"/>
<path d="M446.40 376.67L447.83 379.27H444.97Z" fill="#3c8cf0" stroke="#3c8cf0" stroke-width="0.3"/>
<path d="M452.70 381.97L454.13 384.57H451.27Z" fill="#3c8cf0" stroke="#3c8cf0" stroke-width="0.3"/>
<path d="M457.60 384.67L459.03 387.27H456.17Z" fill="#3c8cf0" stroke="#3c8cf0" stroke-width="0.3"/>
<path d="M463.90 389.37L465.33 391.97H462.47Z" fill="#3c8cf0" stroke="#3c8cf0" stroke-width="0.3"/>
<path d="M468.60 389.37L470.03 391.97H467.17Z" fill="#3c8cf0" stroke="#3c8cf0" stroke-width="0.3"/>
<path d="M474.90 389.37L476.33 391.97H473.47Z" fill="#3c8cf0" stroke="#3c8cf0" stroke-width="0.3"/>
<path d="M479.80 389.37L481.23 391.97H478.37Z" fill="#3c8cf0" stroke="#3c8cf0" stroke-width="0.3"/>
<path d="M486.20 391.87L487.63 394.47H484.77Z" fill="#3c8cf0" stroke="#3c8cf0" stroke-width="0.3"/>
<path d="M497.20 391.47L498.63 394.07H495.77Z" fill="#3c8cf0" stroke="#3c8cf0" stroke-width="0.3"/>
<path d="M508.40 391.07L509.83 393.67H506.97Z" fill="#3c8cf0" stroke="#3c8cf0" stroke-width="0.3"/>
<polyline points="441.30,373.20 446.40,380.20 452.70,385.50 457.60,388.70 463.90,393.30 468.60,393.90 474.90,392.90 479.80,392.90 486.20,394.40 497.20,394.40 508.40,394.20" fill="none" stroke="#4848ff" stroke-width="0.8"/>
<path d="M446.40 379.20V381.20M445.20 379.20h2.4M445.20 381.20h2.4" stroke="#4848ff" stroke-width="0.5" fill="none"/>
<path d="M452.70 384.50V386.50M451.50 384.50h2.4M451.50 386.50h2.4" stroke="#4848ff" stroke-width="0.5" fill="none"/>
<path d="M457.60 387.70V389.70M456.40 387.70h2.4M456.40 389.70h2.4" stroke="#4848ff" stroke-width="0.5" fill="none"/>
<path d="M463.90 391.70V394.90M462.70 391.70h2.4M462.70 394.90h2.4" stroke="#4848ff" stroke-width="0.5" fill="none"/>
<path d="M468.60 392.10V395.70M467.40 392.10h2.4M467.40 395.70h2.4" stroke="#4848ff" stroke-width="0.5" fill="none"/>
<path d="M474.90 391.30V394.50M473.70 391.30h2.4M473.70 394.50h2.4" stroke="#4848ff" stroke-width="0.5" fill="none"/>
<path d="M479.80 391.30V394.50M478.60 391.30h2.4M478.60 394.50h2.4" stroke="#4848ff" stroke-width="0.5" fill="none"/>
<path d="M486.20 393.40V395.40M485.00 393.40h2.4M485.00 395.40h2.4" stroke="#4848ff" stroke-width="0.5" fill="none"/>
<path d="M497.20 393.20V395.60M496.00 393.20h2.4M496.00 395.60h2.4" stroke="#4848ff" stroke-width="0.5" fill="none"/>
<path d="M508.40 393.20V395.20M507.20 393.20h2.4M507.20 395.20h2.4" stroke="#4848ff" stroke-width="0.5" fill="none"/>
<path d="M441.30 374.52L442.62 372.12H439.98Z" fill="#4848ff" stroke="#4848ff" stroke-width="0.3"/>
<path d="M446.40 381.52L447.72 379.12H445.08Z" fill="#4848ff" stroke="#4848ff" stroke-width="0.3"/>
<path d="M452.70 386.82L454.02 384.42H451.38Z" fill="#4848ff" stroke="#4848ff" stroke-width="0.3"/>
<path d="M457.60 390.02L458.92 387.62H456.28Z" fill="#4848ff" stroke="#4848ff" stroke-width="0.3"/>
<path d="M463.90 394.62L465.22 392.22H462.58Z" fill="#4848ff" stroke="#4848ff" stroke-width="0.3"/>
<path d="M468.60 395.22L469.92 392.82H467.28Z" fill="#4848ff" stroke="#4848ff" stroke-width="0.3"/>
<path d="M474.90 394.22L476.22 391.82H473.58Z" fill="#4848ff" stroke="#4848ff" stroke-width="0.3"/>
<path d="M479.80 394.22L481.12 391.82H478.48Z" fill="#4848ff" stroke="#4848ff" stroke-width="0.3"/>
<path d="M486.20 395.72L487.52 393.32H484.88Z" fill="#4848ff" stroke="#4848ff" stroke-width="0.3"/>
<path d="M497.20 395.72L498.52 393.32H495.88Z" fill="#4848ff" stroke="#4848ff" stroke-width="0.3"/>
<path d="M508.40 395.52L509.72 393.12H507.08Z" fill="#4848ff" stroke="#4848ff" stroke-width="0.3"/>
<polyline points="441.30,373.20 446.40,364.80 452.70,358.40 457.60,356.30 463.90,353.80" fill="none" stroke="#000" stroke-width="0.8"/>
<circle cx="441.30" cy="373.20" r="1.6" fill="#000" stroke="#000" stroke-width="0.4"/>
<circle cx="446.40" cy="364.80" r="1.6" fill="#000" stroke="#000" stroke-width="0.4"/>
<circle cx="452.70" cy="358.40" r="1.6" fill="#000" stroke="#000" stroke-width="0.4"/>
<circle cx="457.60" cy="356.30" r="1.6" fill="#000" stroke="#000" stroke-width="0.4"/>
<circle cx="463.90" cy="353.80" r="1.6" fill="#000" stroke="#000" stroke-width="0.4"/>
<path d="M460.9 360.7h6.2" stroke="#000" stroke-width="0.8"/>
<circle cx="464.00" cy="360.70" r="1.6" fill="#000" stroke="#000" stroke-width="0.4"/>
<text x="470.30" y="362.20" font-size="4.5" text-anchor="start" font-weight="normal" font-style="normal" fill="#000">Vehicle QD</text>
<path d="M460.9 366.4h6.2" stroke="#8cb8f8" stroke-width="0.8"/>
<rect x="462.50" y="364.90" width="3.0" height="3.0" fill="#8cb8f8" stroke="#8cb8f8" stroke-width="0.3"/>
<text x="470.30" y="367.90" font-size="4.5" text-anchor="start" font-weight="normal" font-style="normal" fill="#000">PF-07799933 3mpk QD</text>
<path d="M460.9 372.0h6.2" stroke="#3c8cf0" stroke-width="0.8"/>
<path d="M464.00 370.57L465.43 373.17H462.57Z" fill="#3c8cf0" stroke="#3c8cf0" stroke-width="0.3"/>
<text x="470.30" y="373.50" font-size="4.5" text-anchor="start" font-weight="normal" font-style="normal" fill="#000">PF-07799933 10mpk QD</text>
<path d="M460.9 377.2h6.2" stroke="#4848ff" stroke-width="0.8"/>
<path d="M464.00 378.52L465.32 376.12H462.68Z" fill="#4848ff" stroke="#4848ff" stroke-width="0.3"/>
<text x="470.30" y="378.70" font-size="4.5" text-anchor="start" font-weight="normal" font-style="normal" fill="#000">PF-07799933 30mpk QD</text>
<text x="162.70" y="451.20" font-size="8.0" text-anchor="middle" font-weight="bold" font-style="normal" fill="#000">Class II and indel xenografts</text>
<text x="56.40" y="466.70" font-size="8.0" text-anchor="middle" font-weight="normal" font-style="normal" fill="#000">CTG-1441 PDX</text>
<text x="56.4" y="476.3" font-size="8.0" text-anchor="middle"><tspan font-style="italic">BRAF</tspan> G469A</text>
<text x="56.40" y="486.00" font-size="8.0" text-anchor="middle" font-weight="normal" font-style="normal" fill="#000">NSCLC</text>
<text x="158.30" y="466.70" font-size="8.0" text-anchor="middle" font-weight="normal" font-style="normal" fill="#000">CTG-0362 PDX</text>
<text x="158.3" y="476.3" font-size="8.0" text-anchor="middle"><tspan font-style="italic">BRAF</tspan> K601E</text>
<text x="158.30" y="486.00" font-size="8.0" text-anchor="middle" font-weight="normal" font-style="normal" fill="#000">melanoma</text>
<text x="255.60" y="466.70" font-size="8.0" text-anchor="middle" font-weight="normal" font-style="normal" fill="#000">BxPC-3</text>
<text x="255.6" y="476.3" font-size="8.0" text-anchor="middle"><tspan font-style="italic">BRAF</tspan> C487-P492 indel</text>
<text x="255.60" y="486.00" font-size="8.0" text-anchor="middle" font-weight="normal" font-style="normal" fill="#000">PDAC</text>
<text x="399.00" y="451.50" font-size="8.0" text-anchor="middle" font-weight="bold" font-style="normal" fill="#000">Class I resistance xenografts</text>
<text x="399.90" y="467.00" font-size="8.0" text-anchor="middle" font-weight="normal" font-style="normal" fill="#000">MEL21514 PDX</text>
<text x="399.9" y="476.6" font-size="8.0" text-anchor="middle"><tspan font-style="italic">BRAF</tspan> V600E + p61</text>
<text x="399.90" y="486.30" font-size="8.0" text-anchor="middle" font-weight="normal" font-style="normal" fill="#000">melanoma</text>
<path d="M22 498.8V554.2H105.5" stroke="#000" stroke-width="0.7" fill="none"/>
<path d="M22 554.2v1.6" stroke="#000" stroke-width="0.6"/>
<text x="22.00" y="561.00" font-size="4.5" text-anchor="middle" font-weight="bold" font-style="normal" fill="#000">0</text>
<path d="M49.7 554.2v1.6" stroke="#000" stroke-width="0.6"/>
<text x="49.70" y="561.00" font-size="4.5" text-anchor="middle" font-weight="bold" font-style="normal" fill="#000">10</text>
<path d="M77.4 554.2v1.6" stroke="#000" stroke-width="0.6"/>
<text x="77.40" y="561.00" font-size="4.5" text-anchor="middle" font-weight="bold" font-style="normal" fill="#000">20</text>
<path d="M105 554.2v1.6" stroke="#000" stroke-width="0.6"/>
<text x="105.00" y="561.00" font-size="4.5" text-anchor="middle" font-weight="bold" font-style="normal" fill="#000">30</text>
<path d="M22 499.3h-1.6" stroke="#000" stroke-width="0.6"/>
<text x="19.8" y="500.80" font-size="4.5" text-anchor="end" font-weight="bold">1500</text>
<path d="M22 517.55h-1.6" stroke="#000" stroke-width="0.6"/>
<text x="19.8" y="519.05" font-size="4.5" text-anchor="end" font-weight="bold">1000</text>
<path d="M22 535.8h-1.6" stroke="#000" stroke-width="0.6"/>
<text x="19.8" y="537.30" font-size="4.5" text-anchor="end" font-weight="bold">500</text>
<path d="M22 554.1h-1.6" stroke="#000" stroke-width="0.6"/>
<text x="19.8" y="555.60" font-size="4.5" text-anchor="end" font-weight="bold">0</text>
<text x="64.50" y="568.10" font-size="4.4" text-anchor="middle" font-weight="bold" font-style="normal" fill="#000">Day</text>
<text x="3.8" y="525" font-size="4.5" font-weight="bold" text-anchor="middle" transform="rotate(-90 3.8 525)">Mean Tumor Volume (mm<tspan font-size="3" dy="-1.4">3</tspan><tspan dy="1.4"> ± SEM)</tspan></text>
<polyline points="22.00,545.00 27.50,546.25 38.75,549.25 47.00,550.75 58.00,551.00 66.25,551.50 77.50,551.50 85.75,551.50 96.75,551.50" fill="none" stroke="#4444ff" stroke-width="0.8"/>
<rect x="20.60" y="543.60" width="2.8" height="2.8" fill="#4444ff" stroke="#4444ff" stroke-width="0.3"/>
<rect x="26.10" y="544.85" width="2.8" height="2.8" fill="#4444ff" stroke="#4444ff" stroke-width="0.3"/>
<rect x="37.35" y="547.85" width="2.8" height="2.8" fill="#4444ff" stroke="#4444ff" stroke-width="0.3"/>
<rect x="45.60" y="549.35" width="2.8" height="2.8" fill="#4444ff" stroke="#4444ff" stroke-width="0.3"/>
<rect x="56.60" y="549.60" width="2.8" height="2.8" fill="#4444ff" stroke="#4444ff" stroke-width="0.3"/>
<rect x="64.85" y="550.10" width="2.8" height="2.8" fill="#4444ff" stroke="#4444ff" stroke-width="0.3"/>
<rect x="76.10" y="550.10" width="2.8" height="2.8" fill="#4444ff" stroke="#4444ff" stroke-width="0.3"/>
<rect x="84.35" y="550.10" width="2.8" height="2.8" fill="#4444ff" stroke="#4444ff" stroke-width="0.3"/>
<rect x="95.35" y="550.10" width="2.8" height="2.8" fill="#4444ff" stroke="#4444ff" stroke-width="0.3"/>
<polyline points="22.00,545.00 27.50,543.75 38.75,539.50 47.00,538.00 58.00,535.00 66.25,535.00 77.50,530.00 85.75,526.75 96.75,524.50" fill="none" stroke="#ff8000" stroke-width="0.8"/>
<path d="M47.00 537.40V538.60M45.80 537.40h2.4M45.80 538.60h2.4" stroke="#ff8000" stroke-width="0.5" fill="none"/>
<path d="M58.00 534.00V536.00M56.80 534.00h2.4M56.80 536.00h2.4" stroke="#ff8000" stroke-width="0.5" fill="none"/>
<path d="M66.25 534.00V536.00M65.05 534.00h2.4M65.05 536.00h2.4" stroke="#ff8000" stroke-width="0.5" fill="none"/>
<path d="M77.50 528.00V532.00M76.30 528.00h2.4M76.30 532.00h2.4" stroke="#ff8000" stroke-width="0.5" fill="none"/>
<path d="M85.75 524.35V529.15M84.55 524.35h2.4M84.55 529.15h2.4" stroke="#ff8000" stroke-width="0.5" fill="none"/>
<path d="M96.75 522.10V526.90M95.55 522.10h2.4M95.55 526.90h2.4" stroke="#ff8000" stroke-width="0.5" fill="none"/>
<path d="M22.00 546.32L23.32 543.92H20.68Z" fill="#ff8000" stroke="#ff8000" stroke-width="0.3"/>
<path d="M27.50 545.07L28.82 542.67H26.18Z" fill="#ff8000" stroke="#ff8000" stroke-width="0.3"/>
<path d="M38.75 540.82L40.07 538.42H37.43Z" fill="#ff8000" stroke="#ff8000" stroke-width="0.3"/>
<path d="M47.00 539.32L48.32 536.92H45.68Z" fill="#ff8000" stroke="#ff8000" stroke-width="0.3"/>
<path d="M58.00 536.32L59.32 533.92H56.68Z" fill="#ff8000" stroke="#ff8000" stroke-width="0.3"/>
<path d="M66.25 536.32L67.57 533.92H64.93Z" fill="#ff8000" stroke="#ff8000" stroke-width="0.3"/>
<path d="M77.50 531.32L78.82 528.92H76.18Z" fill="#ff8000" stroke="#ff8000" stroke-width="0.3"/>
<path d="M85.75 528.07L87.07 525.67H84.43Z" fill="#ff8000" stroke="#ff8000" stroke-width="0.3"/>
<path d="M96.75 525.82L98.07 523.42H95.43Z" fill="#ff8000" stroke="#ff8000" stroke-width="0.3"/>
<polyline points="22.00,545.00 27.50,543.75 38.75,539.50 47.00,537.50 58.00,531.75 66.25,529.50 77.50,525.00 85.75,520.50 96.75,515.00" fill="none" stroke="#000" stroke-width="0.8"/>
<path d="M38.75 538.90V540.10M37.55 538.90h2.4M37.55 540.10h2.4" stroke="#000" stroke-width="0.5" fill="none"/>
<path d="M47.00 536.70V538.30M45.80 536.70h2.4M45.80 538.30h2.4" stroke="#000" stroke-width="0.5" fill="none"/>
<path d="M58.00 529.35V534.15M56.80 529.35h2.4M56.80 534.15h2.4" stroke="#000" stroke-width="0.5" fill="none"/>
<path d="M66.25 527.10V531.90M65.05 527.10h2.4M65.05 531.90h2.4" stroke="#000" stroke-width="0.5" fill="none"/>
<path d="M77.50 522.60V527.40M76.30 522.60h2.4M76.30 527.40h2.4" stroke="#000" stroke-width="0.5" fill="none"/>
<path d="M85.75 517.50V523.50M84.55 517.50h2.4M84.55 523.50h2.4" stroke="#000" stroke-width="0.5" fill="none"/>
<path d="M96.75 511.40V518.60M95.55 511.40h2.4M95.55 518.60h2.4" stroke="#000" stroke-width="0.5" fill="none"/>
<circle cx="22.00" cy="545.00" r="1.5" fill="#000" stroke="#000" stroke-width="0.4"/>
<circle cx="27.50" cy="543.75" r="1.5" fill="#000" stroke="#000" stroke-width="0.4"/>
<circle cx="38.75" cy="539.50" r="1.5" fill="#000" stroke="#000" stroke-width="0.4"/>
<circle cx="47.00" cy="537.50" r="1.5" fill="#000" stroke="#000" stroke-width="0.4"/>
<circle cx="58.00" cy="531.75" r="1.5" fill="#000" stroke="#000" stroke-width="0.4"/>
<circle cx="66.25" cy="529.50" r="1.5" fill="#000" stroke="#000" stroke-width="0.4"/>
<circle cx="77.50" cy="525.00" r="1.5" fill="#000" stroke="#000" stroke-width="0.4"/>
<circle cx="85.75" cy="520.50" r="1.5" fill="#000" stroke="#000" stroke-width="0.4"/>
<circle cx="96.75" cy="515.00" r="1.5" fill="#000" stroke="#000" stroke-width="0.4"/>
<path d="M26.4 500h6.2" stroke="#000" stroke-width="0.8"/>
<circle cx="29.50" cy="500.00" r="1.5" fill="#000" stroke="#000" stroke-width="0.4"/>
<text x="35.80" y="501.50" font-size="4.5" text-anchor="start" font-weight="normal" font-style="normal" fill="#000">Vehicle QD</text>
<path d="M26.4 505.5h6.2" stroke="#ff8000" stroke-width="0.8"/>
<path d="M29.50 506.82L30.82 504.42H28.18Z" fill="#ff8000" stroke="#ff8000" stroke-width="0.3"/>
<text x="35.80" y="507.00" font-size="4.5" text-anchor="start" font-weight="normal" font-style="normal" fill="#000">plixorafenib 75 mpk BID</text>
<path d="M26.4 510.8h6.2" stroke="#4444ff" stroke-width="0.8"/>
<rect x="28.10" y="509.40" width="2.8" height="2.8" fill="#4444ff" stroke="#4444ff" stroke-width="0.3"/>
<text x="35.80" y="512.30" font-size="4.5" text-anchor="start" font-weight="normal" font-style="normal" fill="#000">PF-07799933 30mpk QD</text>
<path d="M118 498.8V554.2H201.8" stroke="#000" stroke-width="0.7" fill="none"/>
<path d="M118 554.2v1.6" stroke="#000" stroke-width="0.6"/>
<text x="118.00" y="561.00" font-size="4.5" text-anchor="middle" font-weight="bold" font-style="normal" fill="#000">0</text>
<path d="M145.7 554.2v1.6" stroke="#000" stroke-width="0.6"/>
<text x="145.70" y="561.00" font-size="4.5" text-anchor="middle" font-weight="bold" font-style="normal" fill="#000">10</text>
<path d="M173.5 554.2v1.6" stroke="#000" stroke-width="0.6"/>
<text x="173.50" y="561.00" font-size="4.5" text-anchor="middle" font-weight="bold" font-style="normal" fill="#000">20</text>
<path d="M201.2 554.2v1.6" stroke="#000" stroke-width="0.6"/>
<text x="201.20" y="561.00" font-size="4.5" text-anchor="middle" font-weight="bold" font-style="normal" fill="#000">30</text>
<path d="M118 499.3h-1.6" stroke="#000" stroke-width="0.6"/>
<path d="M118 517.55h-1.6" stroke="#000" stroke-width="0.6"/>
<path d="M118 535.8h-1.6" stroke="#000" stroke-width="0.6"/>
<path d="M118 554.1h-1.6" stroke="#000" stroke-width="0.6"/>
<text x="160.50" y="568.10" font-size="4.4" text-anchor="middle" font-weight="bold" font-style="normal" fill="#000">Day</text>
<polyline points="118.00,545.50 123.75,546.50 134.50,548.50 143.00,549.00 154.25,548.75 162.50,549.25 173.75,549.25 182.00,549.25 193.00,549.50" fill="none" stroke="#4060ff" stroke-width="0.8"/>
<circle cx="118.00" cy="545.50" r="1.4" fill="#4060ff" stroke="#4060ff" stroke-width="0.4"/>
<circle cx="123.75" cy="546.50" r="1.4" fill="#4060ff" stroke="#4060ff" stroke-width="0.4"/>
<circle cx="134.50" cy="548.50" r="1.4" fill="#4060ff" stroke="#4060ff" stroke-width="0.4"/>
<circle cx="143.00" cy="549.00" r="1.4" fill="#4060ff" stroke="#4060ff" stroke-width="0.4"/>
<circle cx="154.25" cy="548.75" r="1.4" fill="#4060ff" stroke="#4060ff" stroke-width="0.4"/>
<circle cx="162.50" cy="549.25" r="1.4" fill="#4060ff" stroke="#4060ff" stroke-width="0.4"/>
<circle cx="173.75" cy="549.25" r="1.4" fill="#4060ff" stroke="#4060ff" stroke-width="0.4"/>
<circle cx="182.00" cy="549.25" r="1.4" fill="#4060ff" stroke="#4060ff" stroke-width="0.4"/>
<circle cx="193.00" cy="549.50" r="1.4" fill="#4060ff" stroke="#4060ff" stroke-width="0.4"/>
<polyline points="118.00,545.50 123.75,546.25 134.50,544.50 143.00,544.50 154.25,544.25 162.50,543.75 173.75,543.75 182.00,541.50 193.00,540.75" fill="none" stroke="#c8b87a" stroke-width="0.8"/>
<path d="M118.00 543.88L119.62 545.50L118.00 547.12L116.38 545.50Z" fill="#fff" stroke="#c8b87a" stroke-width="0.4"/>
<path d="M123.75 544.62L125.38 546.25L123.75 547.88L122.12 546.25Z" fill="#fff" stroke="#c8b87a" stroke-width="0.4"/>
<path d="M134.50 542.88L136.12 544.50L134.50 546.12L132.88 544.50Z" fill="#fff" stroke="#c8b87a" stroke-width="0.4"/>
<path d="M143.00 542.88L144.62 544.50L143.00 546.12L141.38 544.50Z" fill="#fff" stroke="#c8b87a" stroke-width="0.4"/>
<path d="M154.25 542.62L155.88 544.25L154.25 545.88L152.62 544.25Z" fill="#fff" stroke="#c8b87a" stroke-width="0.4"/>
<path d="M162.50 542.12L164.12 543.75L162.50 545.38L160.88 543.75Z" fill="#fff" stroke="#c8b87a" stroke-width="0.4"/>
<path d="M173.75 542.12L175.38 543.75L173.75 545.38L172.12 543.75Z" fill="#fff" stroke="#c8b87a" stroke-width="0.4"/>
<path d="M182.00 539.88L183.62 541.50L182.00 543.12L180.38 541.50Z" fill="#fff" stroke="#c8b87a" stroke-width="0.4"/>
<path d="M193.00 539.12L194.62 540.75L193.00 542.38L191.38 540.75Z" fill="#fff" stroke="#c8b87a" stroke-width="0.4"/>
<polyline points="118.00,545.50 123.75,545.50 134.50,544.00 143.00,543.50 154.25,541.75 162.50,541.00 173.75,540.00 182.00,537.50 193.00,535.25" fill="none" stroke="#b000e0" stroke-width="0.8"/>
<rect x="117.10" y="544.60" width="1.8" height="1.8" fill="#b000e0" stroke="#b000e0" stroke-width="0.3"/>
<rect x="122.85" y="544.60" width="1.8" height="1.8" fill="#b000e0" stroke="#b000e0" stroke-width="0.3"/>
<rect x="133.60" y="543.10" width="1.8" height="1.8" fill="#b000e0" stroke="#b000e0" stroke-width="0.3"/>
<rect x="142.10" y="542.60" width="1.8" height="1.8" fill="#b000e0" stroke="#b000e0" stroke-width="0.3"/>
<rect x="153.35" y="540.85" width="1.8" height="1.8" fill="#b000e0" stroke="#b000e0" stroke-width="0.3"/>
<rect x="161.60" y="540.10" width="1.8" height="1.8" fill="#b000e0" stroke="#b000e0" stroke-width="0.3"/>
<rect x="172.85" y="539.10" width="1.8" height="1.8" fill="#b000e0" stroke="#b000e0" stroke-width="0.3"/>
<rect x="181.10" y="536.60" width="1.8" height="1.8" fill="#b000e0" stroke="#b000e0" stroke-width="0.3"/>
<rect x="192.10" y="534.35" width="1.8" height="1.8" fill="#b000e0" stroke="#b000e0" stroke-width="0.3"/>
<polyline points="118.00,545.50 123.75,545.00 134.50,543.00 143.00,541.75 154.25,537.00 162.50,535.50 173.75,533.50 182.00,529.25 193.00,526.25" fill="none" stroke="#000" stroke-width="0.8"/>
<path d="M134.50 542.20V543.80M133.30 542.20h2.4M133.30 543.80h2.4" stroke="#000" stroke-width="0.5" fill="none"/>
<path d="M143.00 540.95V542.55M141.80 540.95h2.4M141.80 542.55h2.4" stroke="#000" stroke-width="0.5" fill="none"/>
<path d="M154.25 535.00V539.00M153.05 535.00h2.4M153.05 539.00h2.4" stroke="#000" stroke-width="0.5" fill="none"/>
<path d="M162.50 533.10V537.90M161.30 533.10h2.4M161.30 537.90h2.4" stroke="#000" stroke-width="0.5" fill="none"/>
<path d="M173.75 530.70V536.30M172.55 530.70h2.4M172.55 536.30h2.4" stroke="#000" stroke-width="0.5" fill="none"/>
<path d="M182.00 525.65V532.85M180.80 525.65h2.4M180.80 532.85h2.4" stroke="#000" stroke-width="0.5" fill="none"/>
<path d="M193.00 521.85V530.65M191.80 521.85h2.4M191.80 530.65h2.4" stroke="#000" stroke-width="0.5" fill="none"/>
<circle cx="118.00" cy="545.50" r="1.5" fill="#000" stroke="#000" stroke-width="0.4"/>
<circle cx="123.75" cy="545.00" r="1.5" fill="#000" stroke="#000" stroke-width="0.4"/>
<circle cx="134.50" cy="543.00" r="1.5" fill="#000" stroke="#000" stroke-width="0.4"/>
<circle cx="143.00" cy="541.75" r="1.5" fill="#000" stroke="#000" stroke-width="0.4"/>
<circle cx="154.25" cy="537.00" r="1.5" fill="#000" stroke="#000" stroke-width="0.4"/>
<circle cx="162.50" cy="535.50" r="1.5" fill="#000" stroke="#000" stroke-width="0.4"/>
<circle cx="173.75" cy="533.50" r="1.5" fill="#000" stroke="#000" stroke-width="0.4"/>
<circle cx="182.00" cy="529.25" r="1.5" fill="#000" stroke="#000" stroke-width="0.4"/>
<circle cx="193.00" cy="526.25" r="1.5" fill="#000" stroke="#000" stroke-width="0.4"/>
<path d="M120.7 501.8h6.2" stroke="#000" stroke-width="0.8"/>
<circle cx="123.80" cy="501.80" r="1.5" fill="#000" stroke="#000" stroke-width="0.4"/>
<text x="130.50" y="503.30" font-size="4.5" text-anchor="start" font-weight="normal" font-style="normal" fill="#000">Vehicle QD</text>
<path d="M120.7 508h6.2" stroke="#b000e0" stroke-width="0.8"/>
<rect x="122.90" y="507.10" width="1.8" height="1.8" fill="#b000e0" stroke="#b000e0" stroke-width="0.3"/>
<text x="130.50" y="509.50" font-size="4.5" text-anchor="start" font-weight="normal" font-style="normal" fill="#000">encorafenib 20mpk QD</text>
<path d="M120.7 514.3h6.2" stroke="#c8b87a" stroke-width="0.8"/>
<path d="M123.80 512.67L125.42 514.30L123.80 515.92L122.17 514.30Z" fill="#fff" stroke="#c8b87a" stroke-width="0.4"/>
<text x="130.50" y="515.80" font-size="4.5" text-anchor="start" font-weight="normal" font-style="normal" fill="#000">binimetinib 3.5mpk BID</text>
<path d="M120.7 520.5h6.2" stroke="#4060ff" stroke-width="0.8"/>
<circle cx="123.80" cy="520.50" r="1.4" fill="#4060ff" stroke="#4060ff" stroke-width="0.4"/>
<text x="130.50" y="522.00" font-size="4.5" text-anchor="start" font-weight="normal" font-style="normal" fill="#000">PF-07799933 30mpk QD</text>
<path d="M214 498.8V554.2H298" stroke="#000" stroke-width="0.7" fill="none"/>
<path d="M215 554.2v1.6" stroke="#000" stroke-width="0.6"/>
<text x="215.00" y="561.00" font-size="4.5" text-anchor="middle" font-weight="bold" font-style="normal" fill="#000">0</text>
<path d="M231.5 554.2v1.6" stroke="#000" stroke-width="0.6"/>
<text x="231.50" y="561.00" font-size="4.5" text-anchor="middle" font-weight="bold" font-style="normal" fill="#000">10</text>
<path d="M248 554.2v1.6" stroke="#000" stroke-width="0.6"/>
<text x="248.00" y="561.00" font-size="4.5" text-anchor="middle" font-weight="bold" font-style="normal" fill="#000">20</text>
<path d="M264.5 554.2v1.6" stroke="#000" stroke-width="0.6"/>
<text x="264.50" y="561.00" font-size="4.5" text-anchor="middle" font-weight="bold" font-style="normal" fill="#000">30</text>
<path d="M281 554.2v1.6" stroke="#000" stroke-width="0.6"/>
<text x="281.00" y="561.00" font-size="4.5" text-anchor="middle" font-weight="bold" font-style="normal" fill="#000">40</text>
<path d="M297.5 554.2v1.6" stroke="#000" stroke-width="0.6"/>
<text x="297.50" y="561.00" font-size="4.5" text-anchor="middle" font-weight="bold" font-style="normal" fill="#000">50</text>
<path d="M214 499.3h-1.6" stroke="#000" stroke-width="0.6"/>
<path d="M214 517.55h-1.6" stroke="#000" stroke-width="0.6"/>
<path d="M214 535.8h-1.6" stroke="#000" stroke-width="0.6"/>
<path d="M214 554.1h-1.6" stroke="#000" stroke-width="0.6"/>
<text x="257.00" y="568.10" font-size="4.4" text-anchor="middle" font-weight="bold" font-style="normal" fill="#000">Day</text>
<polyline points="216.25,546.25 221.25,548.75 227.50,548.50 231.25,548.00 241.25,547.00 246.25,547.50 252.50,546.75 258.00,548.00 265.75,547.00 274.25,545.50 280.75,544.25" fill="none" stroke="#4444ff" stroke-width="0.8"/>
<rect x="214.85" y="544.85" width="2.8" height="2.8" fill="#4444ff" stroke="#4444ff" stroke-width="0.3"/>
<rect x="219.85" y="547.35" width="2.8" height="2.8" fill="#4444ff" stroke="#4444ff" stroke-width="0.3"/>
<rect x="226.10" y="547.10" width="2.8" height="2.8" fill="#4444ff" stroke="#4444ff" stroke-width="0.3"/>
<rect x="229.85" y="546.60" width="2.8" height="2.8" fill="#4444ff" stroke="#4444ff" stroke-width="0.3"/>
<rect x="239.85" y="545.60" width="2.8" height="2.8" fill="#4444ff" stroke="#4444ff" stroke-width="0.3"/>
<rect x="244.85" y="546.10" width="2.8" height="2.8" fill="#4444ff" stroke="#4444ff" stroke-width="0.3"/>
<rect x="251.10" y="545.35" width="2.8" height="2.8" fill="#4444ff" stroke="#4444ff" stroke-width="0.3"/>
<rect x="256.60" y="546.60" width="2.8" height="2.8" fill="#4444ff" stroke="#4444ff" stroke-width="0.3"/>
<rect x="264.35" y="545.60" width="2.8" height="2.8" fill="#4444ff" stroke="#4444ff" stroke-width="0.3"/>
<rect x="272.85" y="544.10" width="2.8" height="2.8" fill="#4444ff" stroke="#4444ff" stroke-width="0.3"/>
<rect x="279.35" y="542.85" width="2.8" height="2.8" fill="#4444ff" stroke="#4444ff" stroke-width="0.3"/>
<polyline points="216.25,546.25 221.25,544.50 227.50,543.00 231.25,543.00 241.25,541.50 246.25,539.25 252.50,535.00 258.00,534.25 265.75,531.25 274.25,523.25 280.75,515.75" fill="none" stroke="#000" stroke-width="0.8"/>
<path d="M241.25 540.90V542.10M240.05 540.90h2.4M240.05 542.10h2.4" stroke="#000" stroke-width="0.5" fill="none"/>
<path d="M246.25 538.45V540.05M245.05 538.45h2.4M245.05 540.05h2.4" stroke="#000" stroke-width="0.5" fill="none"/>
<path d="M252.50 531.60V538.40M251.30 531.60h2.4M251.30 538.40h2.4" stroke="#000" stroke-width="0.5" fill="none"/>
<path d="M258.00 530.65V537.85M256.80 530.65h2.4M256.80 537.85h2.4" stroke="#000" stroke-width="0.5" fill="none"/>
<path d="M265.75 527.85V534.65M264.55 527.85h2.4M264.55 534.65h2.4" stroke="#000" stroke-width="0.5" fill="none"/>
<path d="M274.25 519.85V526.65M273.05 519.85h2.4M273.05 526.65h2.4" stroke="#000" stroke-width="0.5" fill="none"/>
<path d="M280.75 510.55V520.95M279.55 510.55h2.4M279.55 520.95h2.4" stroke="#000" stroke-width="0.5" fill="none"/>
<circle cx="216.25" cy="546.25" r="1.5" fill="#000" stroke="#000" stroke-width="0.4"/>
<circle cx="221.25" cy="544.50" r="1.5" fill="#000" stroke="#000" stroke-width="0.4"/>
<circle cx="227.50" cy="543.00" r="1.5" fill="#000" stroke="#000" stroke-width="0.4"/>
<circle cx="231.25" cy="543.00" r="1.5" fill="#000" stroke="#000" stroke-width="0.4"/>
<circle cx="241.25" cy="541.50" r="1.5" fill="#000" stroke="#000" stroke-width="0.4"/>
<circle cx="246.25" cy="539.25" r="1.5" fill="#000" stroke="#000" stroke-width="0.4"/>
<circle cx="252.50" cy="535.00" r="1.5" fill="#000" stroke="#000" stroke-width="0.4"/>
<circle cx="258.00" cy="534.25" r="1.5" fill="#000" stroke="#000" stroke-width="0.4"/>
<circle cx="265.75" cy="531.25" r="1.5" fill="#000" stroke="#000" stroke-width="0.4"/>
<circle cx="274.25" cy="523.25" r="1.5" fill="#000" stroke="#000" stroke-width="0.4"/>
<circle cx="280.75" cy="515.75" r="1.5" fill="#000" stroke="#000" stroke-width="0.4"/>
<path d="M216.9 501.3h6.2" stroke="#000" stroke-width="0.8"/>
<circle cx="220.00" cy="501.30" r="1.5" fill="#000" stroke="#000" stroke-width="0.4"/>
<text x="226.30" y="502.80" font-size="4.5" text-anchor="start" font-weight="normal" font-style="normal" fill="#000">Vehicle QD</text>
<path d="M216.9 508.8h6.2" stroke="#4444ff" stroke-width="0.8"/>
<rect x="218.60" y="507.40" width="2.8" height="2.8" fill="#4444ff" stroke="#4444ff" stroke-width="0.3"/>
<text x="226.30" y="510.30" font-size="4.5" text-anchor="start" font-weight="normal" font-style="normal" fill="#000">PF-07799933 30mpk QD</text>
<path d="M368.0 498.8V553.5H452.5" stroke="#000" stroke-width="0.7" fill="none"/>
<path d="M368.2 553.5v1.6" stroke="#000" stroke-width="0.6"/>
<text x="368.20" y="560.80" font-size="4.5" text-anchor="middle" font-weight="bold" font-style="normal" fill="#000">0</text>
<path d="M397.7 553.5v1.6" stroke="#000" stroke-width="0.6"/>
<text x="397.70" y="560.80" font-size="4.5" text-anchor="middle" font-weight="bold" font-style="normal" fill="#000">10</text>
<path d="M427.3 553.5v1.6" stroke="#000" stroke-width="0.6"/>
<text x="427.30" y="560.80" font-size="4.5" text-anchor="middle" font-weight="bold" font-style="normal" fill="#000">20</text>
<path d="M368.0 501.2h-1.6" stroke="#000" stroke-width="0.6"/>
<text x="365.8" y="502.70" font-size="4.5" text-anchor="end" font-weight="bold">2000</text>
<path d="M368.0 514.25h-1.6" stroke="#000" stroke-width="0.6"/>
<text x="365.8" y="515.75" font-size="4.5" text-anchor="end" font-weight="bold">1500</text>
<path d="M368.0 527.3h-1.6" stroke="#000" stroke-width="0.6"/>
<text x="365.8" y="528.80" font-size="4.5" text-anchor="end" font-weight="bold">1000</text>
<path d="M368.0 540.35h-1.6" stroke="#000" stroke-width="0.6"/>
<text x="365.8" y="541.85" font-size="4.5" text-anchor="end" font-weight="bold">500</text>
<path d="M368.0 553.4h-1.6" stroke="#000" stroke-width="0.6"/>
<text x="365.8" y="554.90" font-size="4.5" text-anchor="end" font-weight="bold">0</text>
<text x="411.90" y="567.30" font-size="4.4" text-anchor="middle" font-weight="bold" font-style="normal" fill="#000">Day</text>
<text x="349.2" y="529" font-size="4.5" font-weight="bold" text-anchor="middle" transform="rotate(-90 349.2 529)">Mean Tumor Volume (mm<tspan font-size="3" dy="-1.4">3</tspan><tspan dy="1.4"> ± SEM)</tspan></text>
<polyline points="371.20,547.80 380.00,549.20 388.90,550.30 400.70,550.30 409.60,550.30 421.40,549.60 433.20,549.90 445.00,549.90" fill="none" stroke="#b4bcf0" stroke-width="0.8"/>
<rect x="369.90" y="546.50" width="2.6" height="2.6" fill="#4a60d0" stroke="#c8b87a" stroke-width="0.3"/>
<rect x="378.70" y="547.90" width="2.6" height="2.6" fill="#4a60d0" stroke="#c8b87a" stroke-width="0.3"/>
<rect x="387.60" y="549.00" width="2.6" height="2.6" fill="#4a60d0" stroke="#c8b87a" stroke-width="0.3"/>
<rect x="399.40" y="549.00" width="2.6" height="2.6" fill="#4a60d0" stroke="#c8b87a" stroke-width="0.3"/>
<rect x="408.30" y="549.00" width="2.6" height="2.6" fill="#4a60d0" stroke="#c8b87a" stroke-width="0.3"/>
<rect x="420.10" y="548.30" width="2.6" height="2.6" fill="#4a60d0" stroke="#c8b87a" stroke-width="0.3"/>
<rect x="431.90" y="548.60" width="2.6" height="2.6" fill="#4a60d0" stroke="#c8b87a" stroke-width="0.3"/>
<rect x="443.70" y="548.60" width="2.6" height="2.6" fill="#4a60d0" stroke="#c8b87a" stroke-width="0.3"/>
<polyline points="371.20,547.80 380.00,548.20 388.90,547.50 400.70,545.80 409.60,543.30 421.40,536.40 433.20,530.90 445.00,524.00" fill="none" stroke="#4444ff" stroke-width="0.8"/>
<path d="M400.70 545.20V546.40M399.50 545.20h2.4M399.50 546.40h2.4" stroke="#4444ff" stroke-width="0.5" fill="none"/>
<path d="M409.60 542.30V544.30M408.40 542.30h2.4M408.40 544.30h2.4" stroke="#4444ff" stroke-width="0.5" fill="none"/>
<path d="M421.40 534.00V538.80M420.20 534.00h2.4M420.20 538.80h2.4" stroke="#4444ff" stroke-width="0.5" fill="none"/>
<path d="M433.20 527.30V534.50M432.00 527.30h2.4M432.00 534.50h2.4" stroke="#4444ff" stroke-width="0.5" fill="none"/>
<path d="M445.00 519.60V528.40M443.80 519.60h2.4M443.80 528.40h2.4" stroke="#4444ff" stroke-width="0.5" fill="none"/>
<rect x="369.80" y="546.40" width="2.8" height="2.8" fill="#4444ff" stroke="#4444ff" stroke-width="0.3"/>
<rect x="378.60" y="546.80" width="2.8" height="2.8" fill="#4444ff" stroke="#4444ff" stroke-width="0.3"/>
<rect x="387.50" y="546.10" width="2.8" height="2.8" fill="#4444ff" stroke="#4444ff" stroke-width="0.3"/>
<rect x="399.30" y="544.40" width="2.8" height="2.8" fill="#4444ff" stroke="#4444ff" stroke-width="0.3"/>
<rect x="408.20" y="541.90" width="2.8" height="2.8" fill="#4444ff" stroke="#4444ff" stroke-width="0.3"/>
<rect x="420.00" y="535.00" width="2.8" height="2.8" fill="#4444ff" stroke="#4444ff" stroke-width="0.3"/>
<rect x="431.80" y="529.50" width="2.8" height="2.8" fill="#4444ff" stroke="#4444ff" stroke-width="0.3"/>
<rect x="443.60" y="522.60" width="2.8" height="2.8" fill="#4444ff" stroke="#4444ff" stroke-width="0.3"/>
<polyline points="371.20,547.80 380.00,547.50 388.90,544.00 400.70,536.40 409.60,531.20 421.40,518.10" fill="none" stroke="#c070b0" stroke-width="0.8"/>
<circle cx="371.20" cy="547.80" r="0.9" fill="#b040b0" stroke="#b040b0" stroke-width="0.4"/>
<circle cx="380.00" cy="547.50" r="0.9" fill="#b040b0" stroke="#b040b0" stroke-width="0.4"/>
<circle cx="388.90" cy="544.00" r="0.9" fill="#b040b0" stroke="#b040b0" stroke-width="0.4"/>
<circle cx="400.70" cy="536.40" r="0.9" fill="#b040b0" stroke="#b040b0" stroke-width="0.4"/>
<circle cx="409.60" cy="531.20" r="0.9" fill="#b040b0" stroke="#b040b0" stroke-width="0.4"/>
<circle cx="421.40" cy="518.10" r="0.9" fill="#b040b0" stroke="#b040b0" stroke-width="0.4"/>
<polyline points="371.20,547.80 380.00,547.50 388.90,543.30 400.70,535.40 409.60,528.50 421.40,513.60" fill="none" stroke="#c8b87a" stroke-width="0.8"/>
<path d="M388.90 542.70V543.90M387.70 542.70h2.4M387.70 543.90h2.4" stroke="#c8b87a" stroke-width="0.5" fill="none"/>
<path d="M400.70 533.80V537.00M399.50 533.80h2.4M399.50 537.00h2.4" stroke="#c8b87a" stroke-width="0.5" fill="none"/>
<path d="M409.60 526.50V530.50M408.40 526.50h2.4M408.40 530.50h2.4" stroke="#c8b87a" stroke-width="0.5" fill="none"/>
<path d="M421.40 509.60V517.60M420.20 509.60h2.4M420.20 517.60h2.4" stroke="#c8b87a" stroke-width="0.5" fill="none"/>
<path d="M371.20 546.30L372.70 547.80L371.20 549.30L369.70 547.80Z" fill="#fff" stroke="#c8b87a" stroke-width="0.4"/>
<path d="M380.00 546.00L381.50 547.50L380.00 549.00L378.50 547.50Z" fill="#fff" stroke="#c8b87a" stroke-width="0.4"/>
<path d="M388.90 541.80L390.40 543.30L388.90 544.80L387.40 543.30Z" fill="#fff" stroke="#c8b87a" stroke-width="0.4"/>
<path d="M400.70 533.90L402.20 535.40L400.70 536.90L399.20 535.40Z" fill="#fff" stroke="#c8b87a" stroke-width="0.4"/>
<path d="M409.60 527.00L411.10 528.50L409.60 530.00L408.10 528.50Z" fill="#fff" stroke="#c8b87a" stroke-width="0.4"/>
<path d="M421.40 512.10L422.90 513.60L421.40 515.10L419.90 513.60Z" fill="#fff" stroke="#c8b87a" stroke-width="0.4"/>
<polyline points="371.20,547.80 380.00,544.70 388.90,536.10 400.70,523.30 409.60,505.30" fill="none" stroke="#000" stroke-width="0.8"/>
<path d="M380.00 544.10V545.30M378.80 544.10h2.4M378.80 545.30h2.4" stroke="#000" stroke-width="0.5" fill="none"/>
<path d="M388.90 534.30V537.90M387.70 534.30h2.4M387.70 537.90h2.4" stroke="#000" stroke-width="0.5" fill="none"/>
<path d="M400.70 520.70V525.90M399.50 520.70h2.4M399.50 525.90h2.4" stroke="#000" stroke-width="0.5" fill="none"/>
<path d="M409.60 501.30V509.30M408.40 501.30h2.4M408.40 509.30h2.4" stroke="#000" stroke-width="0.5" fill="none"/>
<circle cx="371.20" cy="547.80" r="1.6" fill="#000" stroke="#000" stroke-width="0.4"/>
<circle cx="380.00" cy="544.70" r="1.6" fill="#000" stroke="#000" stroke-width="0.4"/>
<circle cx="388.90" cy="536.10" r="1.6" fill="#000" stroke="#000" stroke-width="0.4"/>
<circle cx="400.70" cy="523.30" r="1.6" fill="#000" stroke="#000" stroke-width="0.4"/>
<circle cx="409.60" cy="505.30" r="1.6" fill="#000" stroke="#000" stroke-width="0.4"/>
<path d="M428.3 492h5.0" stroke="#000" stroke-width="0.8"/>
<circle cx="430.80" cy="492.00" r="1.6" fill="#000" stroke="#000" stroke-width="0.4"/>
<text x="437.00" y="493.50" font-size="4.5" text-anchor="start" font-weight="normal" font-style="normal" fill="#000">Vehicle QD</text>
<path d="M428.3 497.8h5.0" stroke="#c8b87a" stroke-width="0.8"/>
<path d="M430.80 496.18L432.43 497.80L430.80 499.43L429.18 497.80Z" fill="#fff" stroke="#c8b87a" stroke-width="0.4"/>
<text x="437.00" y="499.30" font-size="4.5" text-anchor="start" font-weight="normal" font-style="normal" fill="#000">binimetinib 3.5mpk QD</text>
<path d="M428.3 503.8h5.0" stroke="#c8a8a0" stroke-width="0.8"/>
<circle cx="430.80" cy="503.80" r="0.9" fill="#b040b0" stroke="#b040b0" stroke-width="0.4"/>
<text x="437.00" y="505.30" font-size="4.5" text-anchor="start" font-weight="normal" font-style="normal" fill="#000">enco 20mpk QD + bini 3.5mpk QD</text>
<path d="M428.3 509.6h5.0" stroke="#4444ff" stroke-width="0.8"/>
<circle cx="430.80" cy="509.60" r="1.5" fill="#4444ff" stroke="#4444ff" stroke-width="0.4"/>
<text x="437.00" y="511.10" font-size="4.5" text-anchor="start" font-weight="normal" font-style="normal" fill="#000">PF-07799933 30mpk QD</text>
<path d="M428.3 516.0h5.0" stroke="#b4bcf0" stroke-width="0.8"/>
<rect x="429.50" y="514.70" width="2.6" height="2.6" fill="#4a60d0" stroke="#c8b87a" stroke-width="0.3"/>
<text x="437.00" y="517.50" font-size="4.5" text-anchor="start" font-weight="normal" font-style="normal" fill="#000">PF-9933 30mpk QD + bini 3.5mpk QD</text>
</g>
</svg>
</body></html>
